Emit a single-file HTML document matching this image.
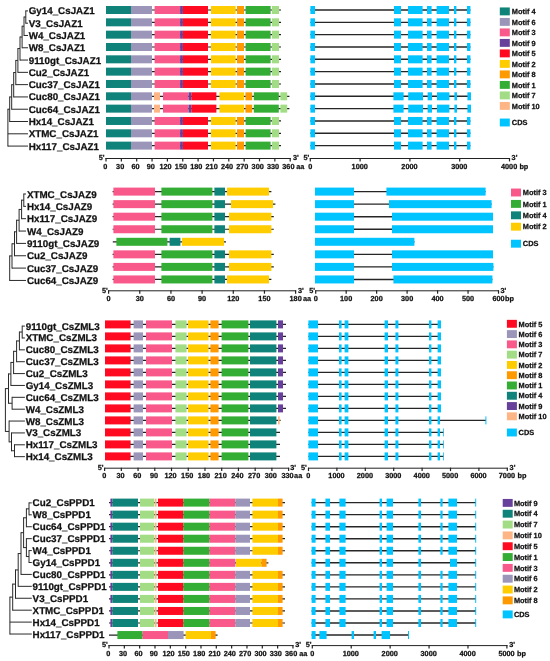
<!DOCTYPE html>
<html lang="en">
<head>
<meta charset="utf-8">
<title>Motif and gene structure of CsJAZ1, CsJAZ9, CsZML3, CsPPD1</title>
<style>
html,body{margin:0;padding:0;background:#fff;}
body{width:550px;height:661px;overflow:hidden;}
svg{display:block;}
svg text{font-family:"Liberation Sans",sans-serif;font-weight:bold;stroke:#111;stroke-width:0.25px;text-rendering:geometricPrecision;}
</style>
</head>
<body>
<svg width="550" height="661" viewBox="0 0 550 661">
<rect x="0" y="0" width="550" height="661" fill="#ffffff"/>
<text x="28.7" y="14.38" font-size="9.8" text-anchor="start" fill="#111" transform="rotate(0.02 28.7 14.38)">Gy14_CsJAZ1</text>
<text x="28.7" y="26.62" font-size="9.8" text-anchor="start" fill="#111" transform="rotate(0.02 28.7 26.62)">V3_CsJAZ1</text>
<text x="28.7" y="38.88" font-size="9.8" text-anchor="start" fill="#111" transform="rotate(0.02 28.7 38.88)">W4_CsJAZ1</text>
<text x="28.7" y="51.38" font-size="9.8" text-anchor="start" fill="#111" transform="rotate(0.02 28.7 51.38)">W8_CsJAZ1</text>
<text x="28.7" y="63.62" font-size="9.8" text-anchor="start" fill="#111" transform="rotate(0.02 28.7 63.62)">9110gt_CsJAZ1</text>
<text x="28.7" y="75.88" font-size="9.8" text-anchor="start" fill="#111" transform="rotate(0.02 28.7 75.88)">Cu2_CsJAZ1</text>
<text x="28.7" y="88.12" font-size="9.8" text-anchor="start" fill="#111" transform="rotate(0.02 28.7 88.12)">Cuc37_CsJAZ1</text>
<text x="28.7" y="100.38" font-size="9.8" text-anchor="start" fill="#111" transform="rotate(0.02 28.7 100.38)">Cuc80_CsJAZ1</text>
<text x="28.7" y="112.62" font-size="9.8" text-anchor="start" fill="#111" transform="rotate(0.02 28.7 112.62)">Cuc64_CsJAZ1</text>
<text x="28.7" y="125.12" font-size="9.8" text-anchor="start" fill="#111" transform="rotate(0.02 28.7 125.12)">Hx14_CsJAZ1</text>
<text x="28.7" y="137.38" font-size="9.8" text-anchor="start" fill="#111" transform="rotate(0.02 28.7 137.38)">XTMC_CsJAZ1</text>
<text x="28.7" y="149.62" font-size="9.8" text-anchor="start" fill="#111" transform="rotate(0.02 28.7 149.62)">Hx117_CsJAZ1</text>
<line x1="25.8" y1="10.4" x2="25.8" y2="23.69" stroke="#2a2a2a" stroke-width="1"/>
<line x1="25.8" y1="10.9" x2="28" y2="10.9" stroke="#2a2a2a" stroke-width="1"/>
<line x1="25.8" y1="23.19" x2="28" y2="23.19" stroke="#2a2a2a" stroke-width="1"/>
<line x1="24" y1="16.54" x2="24" y2="35.98" stroke="#2a2a2a" stroke-width="1"/>
<line x1="24" y1="17.04" x2="25.8" y2="17.04" stroke="#2a2a2a" stroke-width="1"/>
<line x1="24" y1="35.48" x2="28" y2="35.48" stroke="#2a2a2a" stroke-width="1"/>
<line x1="22.1" y1="25.76" x2="22.1" y2="48.27" stroke="#2a2a2a" stroke-width="1"/>
<line x1="22.1" y1="26.26" x2="24" y2="26.26" stroke="#2a2a2a" stroke-width="1"/>
<line x1="22.1" y1="47.77" x2="28" y2="47.77" stroke="#2a2a2a" stroke-width="1"/>
<line x1="20" y1="36.52" x2="20" y2="60.56" stroke="#2a2a2a" stroke-width="1"/>
<line x1="20" y1="37.02" x2="22.1" y2="37.02" stroke="#2a2a2a" stroke-width="1"/>
<line x1="20" y1="60.06" x2="28" y2="60.06" stroke="#2a2a2a" stroke-width="1"/>
<line x1="17.9" y1="48.04" x2="17.9" y2="72.85" stroke="#2a2a2a" stroke-width="1"/>
<line x1="17.9" y1="48.54" x2="20" y2="48.54" stroke="#2a2a2a" stroke-width="1"/>
<line x1="17.9" y1="72.35" x2="28" y2="72.35" stroke="#2a2a2a" stroke-width="1"/>
<line x1="15.8" y1="59.94" x2="15.8" y2="85.14" stroke="#2a2a2a" stroke-width="1"/>
<line x1="15.8" y1="60.44" x2="17.9" y2="60.44" stroke="#2a2a2a" stroke-width="1"/>
<line x1="15.8" y1="84.64" x2="28" y2="84.64" stroke="#2a2a2a" stroke-width="1"/>
<line x1="13.7" y1="72.04" x2="13.7" y2="97.43" stroke="#2a2a2a" stroke-width="1"/>
<line x1="13.7" y1="72.54" x2="15.8" y2="72.54" stroke="#2a2a2a" stroke-width="1"/>
<line x1="13.7" y1="96.93" x2="28" y2="96.93" stroke="#2a2a2a" stroke-width="1"/>
<line x1="11.7" y1="84.24" x2="11.7" y2="109.72" stroke="#2a2a2a" stroke-width="1"/>
<line x1="11.7" y1="84.74" x2="13.7" y2="84.74" stroke="#2a2a2a" stroke-width="1"/>
<line x1="11.7" y1="109.22" x2="28" y2="109.22" stroke="#2a2a2a" stroke-width="1"/>
<line x1="9.7" y1="96.48" x2="9.7" y2="122.01" stroke="#2a2a2a" stroke-width="1"/>
<line x1="9.7" y1="96.98" x2="11.7" y2="96.98" stroke="#2a2a2a" stroke-width="1"/>
<line x1="9.7" y1="121.51" x2="28" y2="121.51" stroke="#2a2a2a" stroke-width="1"/>
<line x1="7.9" y1="108.74" x2="7.9" y2="146.59" stroke="#2a2a2a" stroke-width="1"/>
<line x1="7.9" y1="109.24" x2="9.7" y2="109.24" stroke="#2a2a2a" stroke-width="1"/>
<line x1="7.9" y1="133.8" x2="28" y2="133.8" stroke="#2a2a2a" stroke-width="1"/>
<line x1="7.9" y1="146.09" x2="28" y2="146.09" stroke="#2a2a2a" stroke-width="1"/>
<line x1="106" y1="10" x2="281" y2="10" stroke="#222" stroke-width="1.2"/>
<rect x="106" y="6" width="25" height="8" fill="#0f837a"/>
<rect x="131" y="6" width="21" height="8" fill="#9a95b9"/>
<rect x="154.6" y="6" width="25.4" height="8" fill="#f8588a"/>
<rect x="180.1" y="6" width="2.8" height="8" fill="#66409a"/>
<rect x="182.9" y="6" width="25.1" height="8" fill="#ff0a20"/>
<rect x="211" y="6" width="24.6" height="8" fill="#ffcc00"/>
<rect x="237" y="6" width="7" height="8" fill="#ff9900"/>
<rect x="245.6" y="6" width="25" height="8" fill="#33ad33"/>
<rect x="272" y="6" width="7" height="8" fill="#a2dc84"/>
<line x1="106" y1="22.33" x2="281" y2="22.33" stroke="#222" stroke-width="1.2"/>
<rect x="106" y="18.33" width="25" height="8" fill="#0f837a"/>
<rect x="131" y="18.33" width="21" height="8" fill="#9a95b9"/>
<rect x="154.6" y="18.33" width="25.4" height="8" fill="#f8588a"/>
<rect x="180.1" y="18.33" width="2.8" height="8" fill="#66409a"/>
<rect x="182.9" y="18.33" width="25.1" height="8" fill="#ff0a20"/>
<rect x="211" y="18.33" width="24.6" height="8" fill="#ffcc00"/>
<rect x="237" y="18.33" width="7" height="8" fill="#ff9900"/>
<rect x="245.6" y="18.33" width="25" height="8" fill="#33ad33"/>
<rect x="272" y="18.33" width="7" height="8" fill="#a2dc84"/>
<line x1="106" y1="34.66" x2="281" y2="34.66" stroke="#222" stroke-width="1.2"/>
<rect x="106" y="30.66" width="25" height="8" fill="#0f837a"/>
<rect x="131" y="30.66" width="21" height="8" fill="#9a95b9"/>
<rect x="154.6" y="30.66" width="25.4" height="8" fill="#f8588a"/>
<rect x="180.1" y="30.66" width="2.8" height="8" fill="#66409a"/>
<rect x="182.9" y="30.66" width="25.1" height="8" fill="#ff0a20"/>
<rect x="211" y="30.66" width="24.6" height="8" fill="#ffcc00"/>
<rect x="237" y="30.66" width="7" height="8" fill="#ff9900"/>
<rect x="245.6" y="30.66" width="25" height="8" fill="#33ad33"/>
<rect x="272" y="30.66" width="7" height="8" fill="#a2dc84"/>
<line x1="106" y1="46.99" x2="281" y2="46.99" stroke="#222" stroke-width="1.2"/>
<rect x="106" y="42.99" width="25" height="8" fill="#0f837a"/>
<rect x="131" y="42.99" width="21" height="8" fill="#9a95b9"/>
<rect x="154.6" y="42.99" width="25.4" height="8" fill="#f8588a"/>
<rect x="180.1" y="42.99" width="2.8" height="8" fill="#66409a"/>
<rect x="182.9" y="42.99" width="25.1" height="8" fill="#ff0a20"/>
<rect x="211" y="42.99" width="24.6" height="8" fill="#ffcc00"/>
<rect x="237" y="42.99" width="7" height="8" fill="#ff9900"/>
<rect x="245.6" y="42.99" width="25" height="8" fill="#33ad33"/>
<rect x="272" y="42.99" width="7" height="8" fill="#a2dc84"/>
<line x1="106" y1="59.32" x2="281" y2="59.32" stroke="#222" stroke-width="1.2"/>
<rect x="106" y="55.32" width="25" height="8" fill="#0f837a"/>
<rect x="131" y="55.32" width="21" height="8" fill="#9a95b9"/>
<rect x="154.6" y="55.32" width="25.4" height="8" fill="#f8588a"/>
<rect x="180.1" y="55.32" width="2.8" height="8" fill="#66409a"/>
<rect x="182.9" y="55.32" width="25.1" height="8" fill="#ff0a20"/>
<rect x="211" y="55.32" width="24.6" height="8" fill="#ffcc00"/>
<rect x="237" y="55.32" width="7" height="8" fill="#ff9900"/>
<rect x="245.6" y="55.32" width="25" height="8" fill="#33ad33"/>
<rect x="272" y="55.32" width="7" height="8" fill="#a2dc84"/>
<line x1="106" y1="71.65" x2="281" y2="71.65" stroke="#222" stroke-width="1.2"/>
<rect x="106" y="67.65" width="25" height="8" fill="#0f837a"/>
<rect x="131" y="67.65" width="21" height="8" fill="#9a95b9"/>
<rect x="154.6" y="67.65" width="25.4" height="8" fill="#f8588a"/>
<rect x="180.1" y="67.65" width="2.8" height="8" fill="#66409a"/>
<rect x="182.9" y="67.65" width="25.1" height="8" fill="#ff0a20"/>
<rect x="211" y="67.65" width="24.6" height="8" fill="#ffcc00"/>
<rect x="237" y="67.65" width="7" height="8" fill="#ff9900"/>
<rect x="245.6" y="67.65" width="25" height="8" fill="#33ad33"/>
<rect x="272" y="67.65" width="7" height="8" fill="#a2dc84"/>
<line x1="106" y1="83.98" x2="281" y2="83.98" stroke="#222" stroke-width="1.2"/>
<rect x="106" y="79.98" width="25" height="8" fill="#0f837a"/>
<rect x="131" y="79.98" width="21" height="8" fill="#9a95b9"/>
<rect x="154.6" y="79.98" width="25.4" height="8" fill="#f8588a"/>
<rect x="180.1" y="79.98" width="2.8" height="8" fill="#66409a"/>
<rect x="182.9" y="79.98" width="25.1" height="8" fill="#ff0a20"/>
<rect x="211" y="79.98" width="24.6" height="8" fill="#ffcc00"/>
<rect x="237" y="79.98" width="7" height="8" fill="#ff9900"/>
<rect x="245.6" y="79.98" width="25" height="8" fill="#33ad33"/>
<rect x="272" y="79.98" width="7" height="8" fill="#a2dc84"/>
<line x1="106" y1="96.31" x2="289.4" y2="96.31" stroke="#222" stroke-width="1.2"/>
<rect x="106" y="92.31" width="25" height="8" fill="#0f837a"/>
<rect x="131" y="92.31" width="21" height="8" fill="#9a95b9"/>
<rect x="154" y="92.31" width="6" height="8" fill="#fdb585"/>
<rect x="163" y="92.31" width="25.4" height="8" fill="#f8588a"/>
<rect x="188.5" y="92.31" width="2.8" height="8" fill="#66409a"/>
<rect x="191.3" y="92.31" width="25.1" height="8" fill="#ff0a20"/>
<rect x="219.4" y="92.31" width="24.6" height="8" fill="#ffcc00"/>
<rect x="245.4" y="92.31" width="6.8" height="8" fill="#ff9900"/>
<rect x="253.8" y="92.31" width="25" height="8" fill="#33ad33"/>
<rect x="280.4" y="92.31" width="6.8" height="8" fill="#a2dc84"/>
<line x1="106" y1="108.64" x2="289.4" y2="108.64" stroke="#222" stroke-width="1.2"/>
<rect x="106" y="104.64" width="25" height="8" fill="#0f837a"/>
<rect x="131" y="104.64" width="21" height="8" fill="#9a95b9"/>
<rect x="154" y="104.64" width="6" height="8" fill="#fdb585"/>
<rect x="163" y="104.64" width="25.4" height="8" fill="#f8588a"/>
<rect x="188.5" y="104.64" width="2.8" height="8" fill="#66409a"/>
<rect x="191.3" y="104.64" width="25.1" height="8" fill="#ff0a20"/>
<rect x="219.4" y="104.64" width="24.6" height="8" fill="#ffcc00"/>
<rect x="245.4" y="104.64" width="6.8" height="8" fill="#ff9900"/>
<rect x="253.8" y="104.64" width="25" height="8" fill="#33ad33"/>
<rect x="280.4" y="104.64" width="6.8" height="8" fill="#a2dc84"/>
<line x1="106" y1="120.97" x2="281" y2="120.97" stroke="#222" stroke-width="1.2"/>
<rect x="106" y="116.97" width="25" height="8" fill="#0f837a"/>
<rect x="131" y="116.97" width="21" height="8" fill="#9a95b9"/>
<rect x="154.6" y="116.97" width="25.4" height="8" fill="#f8588a"/>
<rect x="180.1" y="116.97" width="2.8" height="8" fill="#66409a"/>
<rect x="182.9" y="116.97" width="25.1" height="8" fill="#ff0a20"/>
<rect x="211" y="116.97" width="24.6" height="8" fill="#ffcc00"/>
<rect x="237" y="116.97" width="7" height="8" fill="#ff9900"/>
<rect x="245.6" y="116.97" width="25" height="8" fill="#33ad33"/>
<rect x="272" y="116.97" width="7" height="8" fill="#a2dc84"/>
<line x1="106" y1="133.3" x2="281" y2="133.3" stroke="#222" stroke-width="1.2"/>
<rect x="106" y="129.3" width="25" height="8" fill="#0f837a"/>
<rect x="131" y="129.3" width="21" height="8" fill="#9a95b9"/>
<rect x="154.6" y="129.3" width="25.4" height="8" fill="#f8588a"/>
<rect x="180.1" y="129.3" width="2.8" height="8" fill="#66409a"/>
<rect x="182.9" y="129.3" width="25.1" height="8" fill="#ff0a20"/>
<rect x="211" y="129.3" width="24.6" height="8" fill="#ffcc00"/>
<rect x="237" y="129.3" width="7" height="8" fill="#ff9900"/>
<rect x="245.6" y="129.3" width="25" height="8" fill="#33ad33"/>
<rect x="272" y="129.3" width="7" height="8" fill="#a2dc84"/>
<line x1="106" y1="145.63" x2="281" y2="145.63" stroke="#222" stroke-width="1.2"/>
<rect x="106" y="141.63" width="25" height="8" fill="#0f837a"/>
<rect x="131" y="141.63" width="21" height="8" fill="#9a95b9"/>
<rect x="154.6" y="141.63" width="25.4" height="8" fill="#f8588a"/>
<rect x="180.1" y="141.63" width="2.8" height="8" fill="#66409a"/>
<rect x="182.9" y="141.63" width="25.1" height="8" fill="#ff0a20"/>
<rect x="211" y="141.63" width="24.6" height="8" fill="#ffcc00"/>
<rect x="237" y="141.63" width="7" height="8" fill="#ff9900"/>
<rect x="245.6" y="141.63" width="25" height="8" fill="#33ad33"/>
<rect x="272" y="141.63" width="7" height="8" fill="#a2dc84"/>
<line x1="105.5" y1="158.5" x2="290.7" y2="158.5" stroke="#222" stroke-width="1"/>
<line x1="106" y1="158" x2="106" y2="161.4" stroke="#222" stroke-width="1.2"/>
<text x="105.4" y="168.62" font-size="7.3" text-anchor="middle" fill="#111" transform="rotate(0.02 105.4 168.62)">0</text>
<line x1="121.35" y1="158" x2="121.35" y2="161.4" stroke="#222" stroke-width="1.2"/>
<text x="120.15" y="168.62" font-size="7.3" text-anchor="middle" fill="#111" transform="rotate(0.02 120.15 168.62)">30</text>
<line x1="136.7" y1="158" x2="136.7" y2="161.4" stroke="#222" stroke-width="1.2"/>
<text x="135.5" y="168.62" font-size="7.3" text-anchor="middle" fill="#111" transform="rotate(0.02 135.5 168.62)">60</text>
<line x1="152.05" y1="158" x2="152.05" y2="161.4" stroke="#222" stroke-width="1.2"/>
<text x="150.85" y="168.62" font-size="7.3" text-anchor="middle" fill="#111" transform="rotate(0.02 150.85 168.62)">90</text>
<line x1="167.4" y1="158" x2="167.4" y2="161.4" stroke="#222" stroke-width="1.2"/>
<text x="165.6" y="168.62" font-size="7.3" text-anchor="middle" fill="#111" transform="rotate(0.02 165.6 168.62)">120</text>
<line x1="182.75" y1="158" x2="182.75" y2="161.4" stroke="#222" stroke-width="1.2"/>
<text x="180.95" y="168.62" font-size="7.3" text-anchor="middle" fill="#111" transform="rotate(0.02 180.95 168.62)">150</text>
<line x1="198.1" y1="158" x2="198.1" y2="161.4" stroke="#222" stroke-width="1.2"/>
<text x="196.3" y="168.62" font-size="7.3" text-anchor="middle" fill="#111" transform="rotate(0.02 196.3 168.62)">180</text>
<line x1="213.45" y1="158" x2="213.45" y2="161.4" stroke="#222" stroke-width="1.2"/>
<text x="211.65" y="168.62" font-size="7.3" text-anchor="middle" fill="#111" transform="rotate(0.02 211.65 168.62)">210</text>
<line x1="228.8" y1="158" x2="228.8" y2="161.4" stroke="#222" stroke-width="1.2"/>
<text x="227" y="168.62" font-size="7.3" text-anchor="middle" fill="#111" transform="rotate(0.02 227 168.62)">240</text>
<line x1="244.15" y1="158" x2="244.15" y2="161.4" stroke="#222" stroke-width="1.2"/>
<text x="242.35" y="168.62" font-size="7.3" text-anchor="middle" fill="#111" transform="rotate(0.02 242.35 168.62)">270</text>
<line x1="259.5" y1="158" x2="259.5" y2="161.4" stroke="#222" stroke-width="1.2"/>
<text x="257.7" y="168.62" font-size="7.3" text-anchor="middle" fill="#111" transform="rotate(0.02 257.7 168.62)">300</text>
<line x1="274.85" y1="158" x2="274.85" y2="161.4" stroke="#222" stroke-width="1.2"/>
<text x="273.05" y="168.62" font-size="7.3" text-anchor="middle" fill="#111" transform="rotate(0.02 273.05 168.62)">330</text>
<line x1="290.2" y1="158" x2="290.2" y2="161.4" stroke="#222" stroke-width="1.2"/>
<text x="288.4" y="168.62" font-size="7.3" text-anchor="middle" fill="#111" transform="rotate(0.02 288.4 168.62)">360</text>
<text x="104.5" y="160.38" font-size="7.3" text-anchor="end" fill="#111" transform="rotate(0.02 104.5 160.38)">5'</text>
<text x="293" y="160.38" font-size="7.3" text-anchor="start" fill="#111" transform="rotate(0.02 293 160.38)">3'</text>
<text x="296.2" y="168.62" font-size="7.3" text-anchor="start" fill="#111" transform="rotate(0.02 296.2 168.62)">aa</text>
<line x1="310.4" y1="10" x2="470.4" y2="10" stroke="#262626" stroke-width="1.4"/>
<rect x="310.4" y="6" width="4.6" height="8" fill="#00c4ff"/>
<rect x="394" y="6" width="7" height="8" fill="#00c4ff"/>
<rect x="408" y="6" width="14.6" height="8" fill="#00c4ff"/>
<rect x="427" y="6" width="4.6" height="8" fill="#00c4ff"/>
<rect x="436.6" y="6" width="12.4" height="8" fill="#00c4ff"/>
<rect x="454" y="6" width="2.4" height="8" fill="#00c4ff"/>
<rect x="467" y="6" width="3.4" height="8" fill="#00c4ff"/>
<line x1="310.4" y1="22.33" x2="470.4" y2="22.33" stroke="#262626" stroke-width="1.4"/>
<rect x="310.4" y="18.33" width="4.6" height="8" fill="#00c4ff"/>
<rect x="394" y="18.33" width="7" height="8" fill="#00c4ff"/>
<rect x="408" y="18.33" width="14.6" height="8" fill="#00c4ff"/>
<rect x="427" y="18.33" width="4.6" height="8" fill="#00c4ff"/>
<rect x="436.6" y="18.33" width="12.4" height="8" fill="#00c4ff"/>
<rect x="454" y="18.33" width="2.4" height="8" fill="#00c4ff"/>
<rect x="467" y="18.33" width="3.4" height="8" fill="#00c4ff"/>
<line x1="310.4" y1="34.66" x2="470.4" y2="34.66" stroke="#262626" stroke-width="1.4"/>
<rect x="310.4" y="30.66" width="4.6" height="8" fill="#00c4ff"/>
<rect x="394" y="30.66" width="7" height="8" fill="#00c4ff"/>
<rect x="408" y="30.66" width="14.6" height="8" fill="#00c4ff"/>
<rect x="427" y="30.66" width="4.6" height="8" fill="#00c4ff"/>
<rect x="436.6" y="30.66" width="12.4" height="8" fill="#00c4ff"/>
<rect x="454" y="30.66" width="2.4" height="8" fill="#00c4ff"/>
<rect x="467" y="30.66" width="3.4" height="8" fill="#00c4ff"/>
<line x1="310.4" y1="46.99" x2="470.4" y2="46.99" stroke="#262626" stroke-width="1.4"/>
<rect x="310.4" y="42.99" width="4.6" height="8" fill="#00c4ff"/>
<rect x="394" y="42.99" width="7" height="8" fill="#00c4ff"/>
<rect x="408" y="42.99" width="14.6" height="8" fill="#00c4ff"/>
<rect x="427" y="42.99" width="4.6" height="8" fill="#00c4ff"/>
<rect x="436.6" y="42.99" width="12.4" height="8" fill="#00c4ff"/>
<rect x="454" y="42.99" width="2.4" height="8" fill="#00c4ff"/>
<rect x="467" y="42.99" width="3.4" height="8" fill="#00c4ff"/>
<line x1="310.4" y1="59.32" x2="470.4" y2="59.32" stroke="#262626" stroke-width="1.4"/>
<rect x="310.4" y="55.32" width="4.6" height="8" fill="#00c4ff"/>
<rect x="394" y="55.32" width="7" height="8" fill="#00c4ff"/>
<rect x="408" y="55.32" width="14.6" height="8" fill="#00c4ff"/>
<rect x="427" y="55.32" width="4.6" height="8" fill="#00c4ff"/>
<rect x="436.6" y="55.32" width="12.4" height="8" fill="#00c4ff"/>
<rect x="454" y="55.32" width="2.4" height="8" fill="#00c4ff"/>
<rect x="467" y="55.32" width="3.4" height="8" fill="#00c4ff"/>
<line x1="310.4" y1="71.65" x2="470.4" y2="71.65" stroke="#262626" stroke-width="1.4"/>
<rect x="310.4" y="67.65" width="4.6" height="8" fill="#00c4ff"/>
<rect x="394" y="67.65" width="7" height="8" fill="#00c4ff"/>
<rect x="408" y="67.65" width="14.6" height="8" fill="#00c4ff"/>
<rect x="427" y="67.65" width="4.6" height="8" fill="#00c4ff"/>
<rect x="436.6" y="67.65" width="12.4" height="8" fill="#00c4ff"/>
<rect x="454" y="67.65" width="2.4" height="8" fill="#00c4ff"/>
<rect x="467" y="67.65" width="3.4" height="8" fill="#00c4ff"/>
<line x1="310.4" y1="83.98" x2="470.4" y2="83.98" stroke="#262626" stroke-width="1.4"/>
<rect x="310.4" y="79.98" width="4.6" height="8" fill="#00c4ff"/>
<rect x="394" y="79.98" width="7" height="8" fill="#00c4ff"/>
<rect x="408" y="79.98" width="14.6" height="8" fill="#00c4ff"/>
<rect x="427" y="79.98" width="4.6" height="8" fill="#00c4ff"/>
<rect x="436.6" y="79.98" width="12.4" height="8" fill="#00c4ff"/>
<rect x="454" y="79.98" width="2.4" height="8" fill="#00c4ff"/>
<rect x="467" y="79.98" width="3.4" height="8" fill="#00c4ff"/>
<line x1="310.4" y1="96.31" x2="470.8" y2="96.31" stroke="#262626" stroke-width="1.4"/>
<rect x="310.4" y="92.31" width="4.6" height="8" fill="#00c4ff"/>
<rect x="393.4" y="92.31" width="10.2" height="8" fill="#00c4ff"/>
<rect x="408.2" y="92.31" width="14.8" height="8" fill="#00c4ff"/>
<rect x="427.6" y="92.31" width="4.4" height="8" fill="#00c4ff"/>
<rect x="437" y="92.31" width="12.4" height="8" fill="#00c4ff"/>
<rect x="454.4" y="92.31" width="2.6" height="8" fill="#00c4ff"/>
<rect x="467.4" y="92.31" width="3.6" height="8" fill="#00c4ff"/>
<line x1="310.4" y1="108.64" x2="470.8" y2="108.64" stroke="#262626" stroke-width="1.4"/>
<rect x="310.4" y="104.64" width="4.6" height="8" fill="#00c4ff"/>
<rect x="393.4" y="104.64" width="10.2" height="8" fill="#00c4ff"/>
<rect x="408.2" y="104.64" width="14.8" height="8" fill="#00c4ff"/>
<rect x="427.6" y="104.64" width="4.4" height="8" fill="#00c4ff"/>
<rect x="437" y="104.64" width="12.4" height="8" fill="#00c4ff"/>
<rect x="454.4" y="104.64" width="2.6" height="8" fill="#00c4ff"/>
<rect x="467.4" y="104.64" width="3.6" height="8" fill="#00c4ff"/>
<line x1="310.4" y1="120.97" x2="470.4" y2="120.97" stroke="#262626" stroke-width="1.4"/>
<rect x="310.4" y="116.97" width="4.6" height="8" fill="#00c4ff"/>
<rect x="394" y="116.97" width="7" height="8" fill="#00c4ff"/>
<rect x="408" y="116.97" width="14.6" height="8" fill="#00c4ff"/>
<rect x="427" y="116.97" width="4.6" height="8" fill="#00c4ff"/>
<rect x="436.6" y="116.97" width="12.4" height="8" fill="#00c4ff"/>
<rect x="454" y="116.97" width="2.4" height="8" fill="#00c4ff"/>
<rect x="467" y="116.97" width="3.4" height="8" fill="#00c4ff"/>
<line x1="310.4" y1="133.3" x2="470.4" y2="133.3" stroke="#262626" stroke-width="1.4"/>
<rect x="310.4" y="129.3" width="4.6" height="8" fill="#00c4ff"/>
<rect x="394" y="129.3" width="7" height="8" fill="#00c4ff"/>
<rect x="408" y="129.3" width="14.6" height="8" fill="#00c4ff"/>
<rect x="427" y="129.3" width="4.6" height="8" fill="#00c4ff"/>
<rect x="436.6" y="129.3" width="12.4" height="8" fill="#00c4ff"/>
<rect x="454" y="129.3" width="2.4" height="8" fill="#00c4ff"/>
<rect x="467" y="129.3" width="3.4" height="8" fill="#00c4ff"/>
<line x1="310.4" y1="145.63" x2="470.4" y2="145.63" stroke="#262626" stroke-width="1.4"/>
<rect x="310.4" y="141.63" width="4.6" height="8" fill="#00c4ff"/>
<rect x="394" y="141.63" width="7" height="8" fill="#00c4ff"/>
<rect x="408" y="141.63" width="14.6" height="8" fill="#00c4ff"/>
<rect x="427" y="141.63" width="4.6" height="8" fill="#00c4ff"/>
<rect x="436.6" y="141.63" width="12.4" height="8" fill="#00c4ff"/>
<rect x="454" y="141.63" width="2.4" height="8" fill="#00c4ff"/>
<rect x="467" y="141.63" width="3.4" height="8" fill="#00c4ff"/>
<line x1="309.8" y1="158.5" x2="510" y2="158.5" stroke="#222" stroke-width="1"/>
<line x1="310.3" y1="158" x2="310.3" y2="161.4" stroke="#222" stroke-width="1.2"/>
<text x="310.2" y="168.62" font-size="7.3" text-anchor="middle" fill="#111" transform="rotate(0.02 310.2 168.62)">0</text>
<line x1="360.1" y1="158" x2="360.1" y2="161.4" stroke="#222" stroke-width="1.2"/>
<text x="359.7" y="168.62" font-size="7.3" text-anchor="middle" fill="#111" transform="rotate(0.02 359.7 168.62)">1000</text>
<line x1="409.9" y1="158" x2="409.9" y2="161.4" stroke="#222" stroke-width="1.2"/>
<text x="409.5" y="168.62" font-size="7.3" text-anchor="middle" fill="#111" transform="rotate(0.02 409.5 168.62)">2000</text>
<line x1="459.7" y1="158" x2="459.7" y2="161.4" stroke="#222" stroke-width="1.2"/>
<text x="459.3" y="168.62" font-size="7.3" text-anchor="middle" fill="#111" transform="rotate(0.02 459.3 168.62)">3000</text>
<line x1="509.5" y1="158" x2="509.5" y2="161.4" stroke="#222" stroke-width="1.2"/>
<text x="509.1" y="168.62" font-size="7.3" text-anchor="middle" fill="#111" transform="rotate(0.02 509.1 168.62)">4000</text>
<text x="309.2" y="160.38" font-size="7.3" text-anchor="end" fill="#111" transform="rotate(0.02 309.2 160.38)">5'</text>
<text x="511.6" y="160.38" font-size="7.3" text-anchor="start" fill="#111" transform="rotate(0.02 511.6 160.38)">3'</text>
<text x="519.4" y="168.62" font-size="7.3" text-anchor="start" fill="#111" transform="rotate(0.02 519.4 168.62)">bp</text>
<rect x="499.8" y="7.45" width="10" height="7.9" fill="#0f837a"/>
<text x="511.8" y="14.12" font-size="7.4" text-anchor="start" fill="#111" transform="rotate(0.02 511.8 14.12)">Motif 4</text>
<rect x="499.8" y="17.95" width="10" height="7.9" fill="#9a95b9"/>
<text x="511.8" y="24.62" font-size="7.4" text-anchor="start" fill="#111" transform="rotate(0.02 511.8 24.62)">Motif 6</text>
<rect x="499.8" y="28.45" width="10" height="7.9" fill="#f8588a"/>
<text x="511.8" y="35.12" font-size="7.4" text-anchor="start" fill="#111" transform="rotate(0.02 511.8 35.12)">Motif 3</text>
<rect x="499.8" y="38.95" width="10" height="7.9" fill="#66409a"/>
<text x="511.8" y="45.62" font-size="7.4" text-anchor="start" fill="#111" transform="rotate(0.02 511.8 45.62)">Motif 9</text>
<rect x="499.8" y="49.45" width="10" height="7.9" fill="#ff0a20"/>
<text x="511.8" y="56.12" font-size="7.4" text-anchor="start" fill="#111" transform="rotate(0.02 511.8 56.12)">Motif 5</text>
<rect x="499.8" y="59.95" width="10" height="7.9" fill="#ffcc00"/>
<text x="511.8" y="66.62" font-size="7.4" text-anchor="start" fill="#111" transform="rotate(0.02 511.8 66.62)">Motif 2</text>
<rect x="499.8" y="70.45" width="10" height="7.9" fill="#ff9900"/>
<text x="511.8" y="77.12" font-size="7.4" text-anchor="start" fill="#111" transform="rotate(0.02 511.8 77.12)">Motif 8</text>
<rect x="499.8" y="80.95" width="10" height="7.9" fill="#33ad33"/>
<text x="511.8" y="87.62" font-size="7.4" text-anchor="start" fill="#111" transform="rotate(0.02 511.8 87.62)">Motif 1</text>
<rect x="499.8" y="91.45" width="10" height="7.9" fill="#a2dc84"/>
<text x="511.8" y="98.12" font-size="7.4" text-anchor="start" fill="#111" transform="rotate(0.02 511.8 98.12)">Motif 7</text>
<rect x="499.8" y="101.95" width="10" height="7.9" fill="#fdb585"/>
<text x="511.8" y="108.62" font-size="7.4" text-anchor="start" fill="#111" transform="rotate(0.02 511.8 108.62)">Motif 10</text>
<rect x="499.8" y="118.55" width="10" height="7.9" fill="#00c4ff"/>
<text x="511.8" y="125.12" font-size="7.4" text-anchor="start" fill="#111" transform="rotate(0.02 511.8 125.12)">CDS</text>
<text x="26.9" y="197.62" font-size="9.8" text-anchor="start" fill="#111" transform="rotate(0.02 26.9 197.62)">XTMC_CsJAZ9</text>
<text x="26.9" y="209.88" font-size="9.8" text-anchor="start" fill="#111" transform="rotate(0.02 26.9 209.88)">Hx14_CsJAZ9</text>
<text x="26.9" y="222.12" font-size="9.8" text-anchor="start" fill="#111" transform="rotate(0.02 26.9 222.12)">Hx117_CsJAZ9</text>
<text x="26.9" y="234.62" font-size="9.8" text-anchor="start" fill="#111" transform="rotate(0.02 26.9 234.62)">W4_CsJAZ9</text>
<text x="26.9" y="246.88" font-size="9.8" text-anchor="start" fill="#111" transform="rotate(0.02 26.9 246.88)">9110gt_CsJAZ9</text>
<text x="26.9" y="259.38" font-size="9.8" text-anchor="start" fill="#111" transform="rotate(0.02 26.9 259.38)">Cu2_CsJAZ9</text>
<text x="26.9" y="271.62" font-size="9.8" text-anchor="start" fill="#111" transform="rotate(0.02 26.9 271.62)">Cuc37_CsJAZ9</text>
<text x="26.9" y="283.88" font-size="9.8" text-anchor="start" fill="#111" transform="rotate(0.02 26.9 283.88)">Cuc64_CsJAZ9</text>
<line x1="23.8" y1="193.5" x2="23.8" y2="206.85" stroke="#2a2a2a" stroke-width="1"/>
<line x1="23.8" y1="194" x2="26" y2="194" stroke="#2a2a2a" stroke-width="1"/>
<line x1="23.8" y1="206.35" x2="26" y2="206.35" stroke="#2a2a2a" stroke-width="1"/>
<line x1="21.6" y1="199.68" x2="21.6" y2="219.2" stroke="#2a2a2a" stroke-width="1"/>
<line x1="21.6" y1="200.18" x2="23.8" y2="200.18" stroke="#2a2a2a" stroke-width="1"/>
<line x1="21.6" y1="218.7" x2="26" y2="218.7" stroke="#2a2a2a" stroke-width="1"/>
<line x1="19.1" y1="208.94" x2="19.1" y2="231.55" stroke="#2a2a2a" stroke-width="1"/>
<line x1="19.1" y1="209.44" x2="21.6" y2="209.44" stroke="#2a2a2a" stroke-width="1"/>
<line x1="19.1" y1="231.05" x2="26" y2="231.05" stroke="#2a2a2a" stroke-width="1"/>
<line x1="16.6" y1="219.74" x2="16.6" y2="243.9" stroke="#2a2a2a" stroke-width="1"/>
<line x1="16.6" y1="220.24" x2="19.1" y2="220.24" stroke="#2a2a2a" stroke-width="1"/>
<line x1="16.6" y1="243.4" x2="26" y2="243.4" stroke="#2a2a2a" stroke-width="1"/>
<line x1="14.5" y1="231.32" x2="14.5" y2="256.25" stroke="#2a2a2a" stroke-width="1"/>
<line x1="14.5" y1="231.82" x2="16.6" y2="231.82" stroke="#2a2a2a" stroke-width="1"/>
<line x1="14.5" y1="255.75" x2="26" y2="255.75" stroke="#2a2a2a" stroke-width="1"/>
<line x1="12" y1="243.29" x2="12" y2="268.6" stroke="#2a2a2a" stroke-width="1"/>
<line x1="12" y1="243.79" x2="14.5" y2="243.79" stroke="#2a2a2a" stroke-width="1"/>
<line x1="12" y1="268.1" x2="26" y2="268.1" stroke="#2a2a2a" stroke-width="1"/>
<line x1="9.7" y1="255.44" x2="9.7" y2="280.95" stroke="#2a2a2a" stroke-width="1"/>
<line x1="9.7" y1="255.94" x2="12" y2="255.94" stroke="#2a2a2a" stroke-width="1"/>
<line x1="9.7" y1="280.45" x2="26" y2="280.45" stroke="#2a2a2a" stroke-width="1"/>
<line x1="112.6" y1="191.6" x2="271.4" y2="191.6" stroke="#222" stroke-width="1.2"/>
<rect x="113.4" y="187.6" width="41.6" height="8" fill="#f8588a"/>
<rect x="161.4" y="187.6" width="51" height="8" fill="#33ad33"/>
<rect x="214.4" y="187.6" width="10.6" height="8" fill="#0f837a"/>
<rect x="227" y="187.6" width="42" height="8" fill="#ffcc00"/>
<line x1="112.6" y1="204.15" x2="275.4" y2="204.15" stroke="#222" stroke-width="1.2"/>
<rect x="113.4" y="200.15" width="41.6" height="8" fill="#f8588a"/>
<rect x="161.4" y="200.15" width="51" height="8" fill="#33ad33"/>
<rect x="214.4" y="200.15" width="10.6" height="8" fill="#0f837a"/>
<rect x="231" y="200.15" width="42" height="8" fill="#ffcc00"/>
<line x1="112.6" y1="216.7" x2="273.8" y2="216.7" stroke="#222" stroke-width="1.2"/>
<rect x="113.4" y="212.7" width="41.6" height="8" fill="#f8588a"/>
<rect x="161.4" y="212.7" width="51" height="8" fill="#33ad33"/>
<rect x="214.4" y="212.7" width="10.6" height="8" fill="#0f837a"/>
<rect x="229" y="212.7" width="42.4" height="8" fill="#ffcc00"/>
<line x1="112.6" y1="229.25" x2="273.8" y2="229.25" stroke="#222" stroke-width="1.2"/>
<rect x="113.4" y="225.25" width="41.6" height="8" fill="#f8588a"/>
<rect x="161.4" y="225.25" width="51" height="8" fill="#33ad33"/>
<rect x="214.4" y="225.25" width="10.6" height="8" fill="#0f837a"/>
<rect x="229" y="225.25" width="42.4" height="8" fill="#ffcc00"/>
<line x1="112.8" y1="241.8" x2="226" y2="241.8" stroke="#222" stroke-width="1.2"/>
<rect x="116.4" y="237.8" width="51" height="8" fill="#33ad33"/>
<rect x="169.6" y="237.8" width="10.8" height="8" fill="#0f837a"/>
<rect x="182" y="237.8" width="42" height="8" fill="#ffcc00"/>
<line x1="112.6" y1="254.35" x2="273.8" y2="254.35" stroke="#222" stroke-width="1.2"/>
<rect x="113.4" y="250.35" width="41.6" height="8" fill="#f8588a"/>
<rect x="161.4" y="250.35" width="51" height="8" fill="#33ad33"/>
<rect x="214.4" y="250.35" width="10.6" height="8" fill="#0f837a"/>
<rect x="229" y="250.35" width="42.4" height="8" fill="#ffcc00"/>
<line x1="112.6" y1="266.9" x2="273.8" y2="266.9" stroke="#222" stroke-width="1.2"/>
<rect x="113.4" y="262.9" width="41.6" height="8" fill="#f8588a"/>
<rect x="161.4" y="262.9" width="51" height="8" fill="#33ad33"/>
<rect x="214.4" y="262.9" width="10.6" height="8" fill="#0f837a"/>
<rect x="229" y="262.9" width="42.4" height="8" fill="#ffcc00"/>
<line x1="112.6" y1="279.45" x2="271.4" y2="279.45" stroke="#222" stroke-width="1.2"/>
<rect x="113.4" y="275.45" width="41.6" height="8" fill="#f8588a"/>
<rect x="161.4" y="275.45" width="51" height="8" fill="#33ad33"/>
<rect x="214.4" y="275.45" width="10.6" height="8" fill="#0f837a"/>
<rect x="227" y="275.45" width="42" height="8" fill="#ffcc00"/>
<line x1="108.1" y1="290.8" x2="296.12" y2="290.8" stroke="#222" stroke-width="1"/>
<line x1="108.6" y1="290.3" x2="108.6" y2="293.7" stroke="#222" stroke-width="1.2"/>
<text x="108.6" y="300.88" font-size="7.3" text-anchor="middle" fill="#111" transform="rotate(0.02 108.6 300.88)">0</text>
<line x1="139.77" y1="290.3" x2="139.77" y2="293.7" stroke="#222" stroke-width="1.2"/>
<text x="139.77" y="300.88" font-size="7.3" text-anchor="middle" fill="#111" transform="rotate(0.02 139.77 300.88)">30</text>
<line x1="170.94" y1="290.3" x2="170.94" y2="293.7" stroke="#222" stroke-width="1.2"/>
<text x="170.94" y="300.88" font-size="7.3" text-anchor="middle" fill="#111" transform="rotate(0.02 170.94 300.88)">60</text>
<line x1="202.11" y1="290.3" x2="202.11" y2="293.7" stroke="#222" stroke-width="1.2"/>
<text x="202.11" y="300.88" font-size="7.3" text-anchor="middle" fill="#111" transform="rotate(0.02 202.11 300.88)">90</text>
<line x1="233.28" y1="290.3" x2="233.28" y2="293.7" stroke="#222" stroke-width="1.2"/>
<text x="233.28" y="300.88" font-size="7.3" text-anchor="middle" fill="#111" transform="rotate(0.02 233.28 300.88)">120</text>
<line x1="264.45" y1="290.3" x2="264.45" y2="293.7" stroke="#222" stroke-width="1.2"/>
<text x="264.45" y="300.88" font-size="7.3" text-anchor="middle" fill="#111" transform="rotate(0.02 264.45 300.88)">150</text>
<line x1="295.62" y1="290.3" x2="295.62" y2="293.7" stroke="#222" stroke-width="1.2"/>
<text x="295.62" y="300.88" font-size="7.3" text-anchor="middle" fill="#111" transform="rotate(0.02 295.62 300.88)">180</text>
<text x="107.7" y="292.62" font-size="7.3" text-anchor="end" fill="#111" transform="rotate(0.02 107.7 292.62)">5'</text>
<text x="298" y="292.62" font-size="7.3" text-anchor="start" fill="#111" transform="rotate(0.02 298 292.62)">3'</text>
<text x="302.9" y="300.88" font-size="7.3" text-anchor="start" fill="#111" transform="rotate(0.02 302.9 300.88)">aa</text>
<line x1="315" y1="191.6" x2="485.6" y2="191.6" stroke="#262626" stroke-width="1.4"/>
<rect x="315" y="187.6" width="39" height="8" fill="#00c4ff"/>
<rect x="386.4" y="187.6" width="99.2" height="8" fill="#00c4ff"/>
<line x1="315" y1="204.15" x2="491.6" y2="204.15" stroke="#262626" stroke-width="1.4"/>
<rect x="315" y="200.15" width="39" height="8" fill="#00c4ff"/>
<rect x="389" y="200.15" width="102.6" height="8" fill="#00c4ff"/>
<line x1="315" y1="216.7" x2="493" y2="216.7" stroke="#262626" stroke-width="1.4"/>
<rect x="315" y="212.7" width="39" height="8" fill="#00c4ff"/>
<rect x="392" y="212.7" width="101" height="8" fill="#00c4ff"/>
<line x1="315" y1="229.25" x2="493" y2="229.25" stroke="#262626" stroke-width="1.4"/>
<rect x="315" y="225.25" width="39" height="8" fill="#00c4ff"/>
<rect x="392" y="225.25" width="101" height="8" fill="#00c4ff"/>
<line x1="315" y1="241.8" x2="414.4" y2="241.8" stroke="#262626" stroke-width="1.4"/>
<rect x="315" y="237.8" width="99.4" height="8" fill="#00c4ff"/>
<line x1="315" y1="254.35" x2="493" y2="254.35" stroke="#262626" stroke-width="1.4"/>
<rect x="315" y="250.35" width="39" height="8" fill="#00c4ff"/>
<rect x="392" y="250.35" width="101" height="8" fill="#00c4ff"/>
<line x1="315" y1="266.9" x2="493.4" y2="266.9" stroke="#262626" stroke-width="1.4"/>
<rect x="315" y="262.9" width="39" height="8" fill="#00c4ff"/>
<rect x="392" y="262.9" width="101.4" height="8" fill="#00c4ff"/>
<line x1="315" y1="279.45" x2="492.4" y2="279.45" stroke="#262626" stroke-width="1.4"/>
<rect x="315" y="275.45" width="39" height="8" fill="#00c4ff"/>
<rect x="393.4" y="275.45" width="99" height="8" fill="#00c4ff"/>
<line x1="315.2" y1="290.8" x2="499.02" y2="290.8" stroke="#222" stroke-width="1"/>
<line x1="315.7" y1="290.3" x2="315.7" y2="293.7" stroke="#222" stroke-width="1.2"/>
<text x="315.7" y="300.88" font-size="7.3" text-anchor="middle" fill="#111" transform="rotate(0.02 315.7 300.88)">0</text>
<line x1="346.17" y1="290.3" x2="346.17" y2="293.7" stroke="#222" stroke-width="1.2"/>
<text x="346.17" y="300.88" font-size="7.3" text-anchor="middle" fill="#111" transform="rotate(0.02 346.17 300.88)">100</text>
<line x1="376.64" y1="290.3" x2="376.64" y2="293.7" stroke="#222" stroke-width="1.2"/>
<text x="376.64" y="300.88" font-size="7.3" text-anchor="middle" fill="#111" transform="rotate(0.02 376.64 300.88)">200</text>
<line x1="407.11" y1="290.3" x2="407.11" y2="293.7" stroke="#222" stroke-width="1.2"/>
<text x="407.11" y="300.88" font-size="7.3" text-anchor="middle" fill="#111" transform="rotate(0.02 407.11 300.88)">300</text>
<line x1="437.58" y1="290.3" x2="437.58" y2="293.7" stroke="#222" stroke-width="1.2"/>
<text x="437.58" y="300.88" font-size="7.3" text-anchor="middle" fill="#111" transform="rotate(0.02 437.58 300.88)">400</text>
<line x1="468.05" y1="290.3" x2="468.05" y2="293.7" stroke="#222" stroke-width="1.2"/>
<text x="468.05" y="300.88" font-size="7.3" text-anchor="middle" fill="#111" transform="rotate(0.02 468.05 300.88)">500</text>
<line x1="498.52" y1="290.3" x2="498.52" y2="293.7" stroke="#222" stroke-width="1.2"/>
<text x="498.52" y="300.88" font-size="7.3" text-anchor="middle" fill="#111" transform="rotate(0.02 498.52 300.88)">600</text>
<text x="315" y="292.62" font-size="7.3" text-anchor="end" fill="#111" transform="rotate(0.02 315 292.62)">5'</text>
<text x="500.5" y="292.62" font-size="7.3" text-anchor="start" fill="#111" transform="rotate(0.02 500.5 292.62)">3'</text>
<text x="505" y="300.88" font-size="7.3" text-anchor="start" fill="#111" transform="rotate(0.02 505 300.88)">bp</text>
<rect x="511" y="188.55" width="10" height="7.9" fill="#f8588a"/>
<text x="522.8" y="195.12" font-size="7.4" text-anchor="start" fill="#111" transform="rotate(0.02 522.8 195.12)">Motif 3</text>
<rect x="511" y="199.95" width="10" height="7.9" fill="#33ad33"/>
<text x="522.8" y="206.62" font-size="7.4" text-anchor="start" fill="#111" transform="rotate(0.02 522.8 206.62)">Motif 1</text>
<rect x="511" y="211.35" width="10" height="7.9" fill="#0f837a"/>
<text x="522.8" y="218.12" font-size="7.4" text-anchor="start" fill="#111" transform="rotate(0.02 522.8 218.12)">Motif 4</text>
<rect x="511" y="222.75" width="10" height="7.9" fill="#ffcc00"/>
<text x="522.8" y="229.38" font-size="7.4" text-anchor="start" fill="#111" transform="rotate(0.02 522.8 229.38)">Motif 2</text>
<rect x="511" y="239.75" width="10" height="7.9" fill="#00c4ff"/>
<text x="522.8" y="246.38" font-size="7.4" text-anchor="start" fill="#111" transform="rotate(0.02 522.8 246.38)">CDS</text>
<text x="25.7" y="329.62" font-size="9.8" text-anchor="start" fill="#111" transform="rotate(0.02 25.7 329.62)">9110gt_CsZML3</text>
<text x="25.7" y="341.38" font-size="9.8" text-anchor="start" fill="#111" transform="rotate(0.02 25.7 341.38)">XTMC_CsZML3</text>
<text x="25.7" y="353.38" font-size="9.8" text-anchor="start" fill="#111" transform="rotate(0.02 25.7 353.38)">Cuc80_CsZML3</text>
<text x="25.7" y="365.12" font-size="9.8" text-anchor="start" fill="#111" transform="rotate(0.02 25.7 365.12)">Cuc37_CsZML3</text>
<text x="25.7" y="377.12" font-size="9.8" text-anchor="start" fill="#111" transform="rotate(0.02 25.7 377.12)">Cu2_CsZML3</text>
<text x="25.7" y="388.88" font-size="9.8" text-anchor="start" fill="#111" transform="rotate(0.02 25.7 388.88)">Gy14_CsZML3</text>
<text x="25.7" y="400.88" font-size="9.8" text-anchor="start" fill="#111" transform="rotate(0.02 25.7 400.88)">Cuc64_CsZML3</text>
<text x="25.7" y="412.62" font-size="9.8" text-anchor="start" fill="#111" transform="rotate(0.02 25.7 412.62)">W4_CsZML3</text>
<text x="25.7" y="424.62" font-size="9.8" text-anchor="start" fill="#111" transform="rotate(0.02 25.7 424.62)">W8_CsZML3</text>
<text x="25.7" y="436.38" font-size="9.8" text-anchor="start" fill="#111" transform="rotate(0.02 25.7 436.38)">V3_CsZML3</text>
<text x="25.7" y="448.38" font-size="9.8" text-anchor="start" fill="#111" transform="rotate(0.02 25.7 448.38)">Hx117_CsZML3</text>
<text x="25.7" y="460.12" font-size="9.8" text-anchor="start" fill="#111" transform="rotate(0.02 25.7 460.12)">Hx14_CsZML3</text>
<line x1="22.2" y1="325.6" x2="22.2" y2="338.47" stroke="#2a2a2a" stroke-width="1"/>
<line x1="22.2" y1="326.1" x2="24.9" y2="326.1" stroke="#2a2a2a" stroke-width="1"/>
<line x1="22.2" y1="337.97" x2="24.9" y2="337.97" stroke="#2a2a2a" stroke-width="1"/>
<line x1="19.4" y1="331.54" x2="19.4" y2="350.34" stroke="#2a2a2a" stroke-width="1"/>
<line x1="19.4" y1="332.04" x2="22.2" y2="332.04" stroke="#2a2a2a" stroke-width="1"/>
<line x1="19.4" y1="349.84" x2="24.9" y2="349.84" stroke="#2a2a2a" stroke-width="1"/>
<line x1="16.6" y1="340.44" x2="16.6" y2="362.21" stroke="#2a2a2a" stroke-width="1"/>
<line x1="16.6" y1="340.94" x2="19.4" y2="340.94" stroke="#2a2a2a" stroke-width="1"/>
<line x1="16.6" y1="361.71" x2="24.9" y2="361.71" stroke="#2a2a2a" stroke-width="1"/>
<line x1="13.6" y1="350.82" x2="13.6" y2="374.08" stroke="#2a2a2a" stroke-width="1"/>
<line x1="13.6" y1="351.32" x2="16.6" y2="351.32" stroke="#2a2a2a" stroke-width="1"/>
<line x1="13.6" y1="373.58" x2="24.9" y2="373.58" stroke="#2a2a2a" stroke-width="1"/>
<line x1="10.9" y1="361.95" x2="10.9" y2="385.95" stroke="#2a2a2a" stroke-width="1"/>
<line x1="10.9" y1="362.45" x2="13.6" y2="362.45" stroke="#2a2a2a" stroke-width="1"/>
<line x1="10.9" y1="385.45" x2="24.9" y2="385.45" stroke="#2a2a2a" stroke-width="1"/>
<line x1="12.1" y1="396.82" x2="12.1" y2="409.69" stroke="#2a2a2a" stroke-width="1"/>
<line x1="12.1" y1="397.32" x2="24.9" y2="397.32" stroke="#2a2a2a" stroke-width="1"/>
<line x1="12.1" y1="409.19" x2="24.9" y2="409.19" stroke="#2a2a2a" stroke-width="1"/>
<line x1="8.5" y1="373.45" x2="8.5" y2="403.75" stroke="#2a2a2a" stroke-width="1"/>
<line x1="8.5" y1="373.95" x2="10.9" y2="373.95" stroke="#2a2a2a" stroke-width="1"/>
<line x1="8.5" y1="403.25" x2="12.1" y2="403.25" stroke="#2a2a2a" stroke-width="1"/>
<line x1="14.5" y1="444.3" x2="14.5" y2="457.17" stroke="#2a2a2a" stroke-width="1"/>
<line x1="14.5" y1="444.8" x2="24.9" y2="444.8" stroke="#2a2a2a" stroke-width="1"/>
<line x1="14.5" y1="456.67" x2="24.9" y2="456.67" stroke="#2a2a2a" stroke-width="1"/>
<line x1="11.5" y1="432.43" x2="11.5" y2="451.24" stroke="#2a2a2a" stroke-width="1"/>
<line x1="11.5" y1="432.93" x2="24.9" y2="432.93" stroke="#2a2a2a" stroke-width="1"/>
<line x1="11.5" y1="450.74" x2="14.5" y2="450.74" stroke="#2a2a2a" stroke-width="1"/>
<line x1="9.1" y1="420.56" x2="9.1" y2="442.33" stroke="#2a2a2a" stroke-width="1"/>
<line x1="9.1" y1="421.06" x2="24.9" y2="421.06" stroke="#2a2a2a" stroke-width="1"/>
<line x1="9.1" y1="441.83" x2="11.5" y2="441.83" stroke="#2a2a2a" stroke-width="1"/>
<line x1="5.4" y1="388.1" x2="5.4" y2="431.95" stroke="#2a2a2a" stroke-width="1"/>
<line x1="5.4" y1="388.6" x2="8.5" y2="388.6" stroke="#2a2a2a" stroke-width="1"/>
<line x1="5.4" y1="431.45" x2="9.1" y2="431.45" stroke="#2a2a2a" stroke-width="1"/>
<line x1="105" y1="324.4" x2="286" y2="324.4" stroke="#222" stroke-width="1.2"/>
<rect x="105" y="320.4" width="25.6" height="8" fill="#ff0a20"/>
<rect x="133.6" y="320.4" width="9.4" height="8" fill="#9a95b9"/>
<rect x="146" y="320.4" width="26" height="8" fill="#f8588a"/>
<rect x="175.4" y="320.4" width="11.2" height="8" fill="#a2dc84"/>
<rect x="188" y="320.4" width="20.6" height="8" fill="#ffcc00"/>
<rect x="210.4" y="320.4" width="8.2" height="8" fill="#ff9900"/>
<rect x="221.6" y="320.4" width="26.8" height="8" fill="#33ad33"/>
<rect x="250" y="320.4" width="26.4" height="8" fill="#0f837a"/>
<rect x="278" y="320.4" width="5" height="8" fill="#66409a"/>
<line x1="105" y1="336.4" x2="286" y2="336.4" stroke="#222" stroke-width="1.2"/>
<rect x="105" y="332.4" width="25.6" height="8" fill="#ff0a20"/>
<rect x="133.6" y="332.4" width="9.4" height="8" fill="#9a95b9"/>
<rect x="146" y="332.4" width="26" height="8" fill="#f8588a"/>
<rect x="175.4" y="332.4" width="11.2" height="8" fill="#a2dc84"/>
<rect x="188" y="332.4" width="20.6" height="8" fill="#ffcc00"/>
<rect x="210.4" y="332.4" width="8.2" height="8" fill="#ff9900"/>
<rect x="221.6" y="332.4" width="26.8" height="8" fill="#33ad33"/>
<rect x="250" y="332.4" width="26.4" height="8" fill="#0f837a"/>
<rect x="278" y="332.4" width="5" height="8" fill="#66409a"/>
<line x1="105" y1="348.4" x2="286" y2="348.4" stroke="#222" stroke-width="1.2"/>
<rect x="105" y="344.4" width="25.6" height="8" fill="#ff0a20"/>
<rect x="133.6" y="344.4" width="9.4" height="8" fill="#9a95b9"/>
<rect x="146" y="344.4" width="26" height="8" fill="#f8588a"/>
<rect x="175.4" y="344.4" width="11.2" height="8" fill="#a2dc84"/>
<rect x="188" y="344.4" width="20.6" height="8" fill="#ffcc00"/>
<rect x="210.4" y="344.4" width="8.2" height="8" fill="#ff9900"/>
<rect x="221.6" y="344.4" width="26.8" height="8" fill="#33ad33"/>
<rect x="250" y="344.4" width="26.4" height="8" fill="#0f837a"/>
<rect x="278" y="344.4" width="5" height="8" fill="#66409a"/>
<line x1="105" y1="360.4" x2="286" y2="360.4" stroke="#222" stroke-width="1.2"/>
<rect x="105" y="356.4" width="25.6" height="8" fill="#ff0a20"/>
<rect x="133.6" y="356.4" width="9.4" height="8" fill="#9a95b9"/>
<rect x="146" y="356.4" width="26" height="8" fill="#f8588a"/>
<rect x="175.4" y="356.4" width="11.2" height="8" fill="#a2dc84"/>
<rect x="188" y="356.4" width="20.6" height="8" fill="#ffcc00"/>
<rect x="210.4" y="356.4" width="8.2" height="8" fill="#ff9900"/>
<rect x="221.6" y="356.4" width="26.8" height="8" fill="#33ad33"/>
<rect x="250" y="356.4" width="26.4" height="8" fill="#0f837a"/>
<rect x="278" y="356.4" width="5" height="8" fill="#66409a"/>
<line x1="105" y1="372.4" x2="286" y2="372.4" stroke="#222" stroke-width="1.2"/>
<rect x="105" y="368.4" width="25.6" height="8" fill="#ff0a20"/>
<rect x="133.6" y="368.4" width="9.4" height="8" fill="#9a95b9"/>
<rect x="146" y="368.4" width="26" height="8" fill="#f8588a"/>
<rect x="175.4" y="368.4" width="11.2" height="8" fill="#a2dc84"/>
<rect x="188" y="368.4" width="20.6" height="8" fill="#ffcc00"/>
<rect x="210.4" y="368.4" width="8.2" height="8" fill="#ff9900"/>
<rect x="221.6" y="368.4" width="26.8" height="8" fill="#33ad33"/>
<rect x="250" y="368.4" width="26.4" height="8" fill="#0f837a"/>
<rect x="278" y="368.4" width="5" height="8" fill="#66409a"/>
<line x1="105" y1="384.4" x2="286" y2="384.4" stroke="#222" stroke-width="1.2"/>
<rect x="105" y="380.4" width="25.6" height="8" fill="#ff0a20"/>
<rect x="133.6" y="380.4" width="9.4" height="8" fill="#9a95b9"/>
<rect x="146" y="380.4" width="26" height="8" fill="#f8588a"/>
<rect x="175.4" y="380.4" width="11.2" height="8" fill="#a2dc84"/>
<rect x="188" y="380.4" width="20.6" height="8" fill="#ffcc00"/>
<rect x="210.4" y="380.4" width="8.2" height="8" fill="#ff9900"/>
<rect x="221.6" y="380.4" width="26.8" height="8" fill="#33ad33"/>
<rect x="250" y="380.4" width="26.4" height="8" fill="#0f837a"/>
<rect x="278" y="380.4" width="5" height="8" fill="#66409a"/>
<line x1="105" y1="396.4" x2="286" y2="396.4" stroke="#222" stroke-width="1.2"/>
<rect x="105" y="392.4" width="25.6" height="8" fill="#ff0a20"/>
<rect x="133.6" y="392.4" width="9.4" height="8" fill="#9a95b9"/>
<rect x="146" y="392.4" width="26" height="8" fill="#f8588a"/>
<rect x="175.4" y="392.4" width="11.2" height="8" fill="#a2dc84"/>
<rect x="188" y="392.4" width="20.6" height="8" fill="#ffcc00"/>
<rect x="210.4" y="392.4" width="8.2" height="8" fill="#ff9900"/>
<rect x="221.6" y="392.4" width="26.8" height="8" fill="#33ad33"/>
<rect x="250" y="392.4" width="26.4" height="8" fill="#0f837a"/>
<rect x="278" y="392.4" width="5" height="8" fill="#66409a"/>
<line x1="105" y1="408.4" x2="286" y2="408.4" stroke="#222" stroke-width="1.2"/>
<rect x="105" y="404.4" width="25.6" height="8" fill="#ff0a20"/>
<rect x="133.6" y="404.4" width="9.4" height="8" fill="#9a95b9"/>
<rect x="146" y="404.4" width="26" height="8" fill="#f8588a"/>
<rect x="175.4" y="404.4" width="11.2" height="8" fill="#a2dc84"/>
<rect x="188" y="404.4" width="20.6" height="8" fill="#ffcc00"/>
<rect x="210.4" y="404.4" width="8.2" height="8" fill="#ff9900"/>
<rect x="221.6" y="404.4" width="26.8" height="8" fill="#33ad33"/>
<rect x="250" y="404.4" width="26.4" height="8" fill="#0f837a"/>
<rect x="278" y="404.4" width="5" height="8" fill="#66409a"/>
<line x1="105" y1="420.4" x2="280.6" y2="420.4" stroke="#222" stroke-width="1.2"/>
<rect x="105" y="416.4" width="25.6" height="8" fill="#ff0a20"/>
<rect x="133.6" y="416.4" width="9.4" height="8" fill="#9a95b9"/>
<rect x="146" y="416.4" width="26" height="8" fill="#f8588a"/>
<rect x="175.4" y="416.4" width="11.2" height="8" fill="#a2dc84"/>
<rect x="188" y="416.4" width="20.6" height="8" fill="#ffcc00"/>
<rect x="210.4" y="416.4" width="8.2" height="8" fill="#ff9900"/>
<rect x="221.6" y="416.4" width="26.8" height="8" fill="#33ad33"/>
<rect x="250" y="416.4" width="26.4" height="8" fill="#0f837a"/>
<rect x="278" y="416.4" width="1.7" height="8" fill="#fdb585"/>
<line x1="105" y1="432.4" x2="280" y2="432.4" stroke="#222" stroke-width="1.2"/>
<rect x="105" y="428.4" width="25.6" height="8" fill="#ff0a20"/>
<rect x="133.6" y="428.4" width="9.4" height="8" fill="#9a95b9"/>
<rect x="146" y="428.4" width="26" height="8" fill="#f8588a"/>
<rect x="175.4" y="428.4" width="11.2" height="8" fill="#a2dc84"/>
<rect x="188" y="428.4" width="20.6" height="8" fill="#ffcc00"/>
<rect x="210.4" y="428.4" width="8.2" height="8" fill="#ff9900"/>
<rect x="221.6" y="428.4" width="26.8" height="8" fill="#33ad33"/>
<rect x="250" y="428.4" width="26.4" height="8" fill="#0f837a"/>
<line x1="105" y1="444.4" x2="280" y2="444.4" stroke="#222" stroke-width="1.2"/>
<rect x="105" y="440.4" width="25.6" height="8" fill="#ff0a20"/>
<rect x="133.6" y="440.4" width="9.4" height="8" fill="#9a95b9"/>
<rect x="146" y="440.4" width="26" height="8" fill="#f8588a"/>
<rect x="175.4" y="440.4" width="11.2" height="8" fill="#a2dc84"/>
<rect x="188" y="440.4" width="20.6" height="8" fill="#ffcc00"/>
<rect x="210.4" y="440.4" width="8.2" height="8" fill="#ff9900"/>
<rect x="221.6" y="440.4" width="26.8" height="8" fill="#33ad33"/>
<rect x="250" y="440.4" width="26.4" height="8" fill="#0f837a"/>
<line x1="105" y1="456.4" x2="280" y2="456.4" stroke="#222" stroke-width="1.2"/>
<rect x="105" y="452.4" width="25.6" height="8" fill="#ff0a20"/>
<rect x="133.6" y="452.4" width="9.4" height="8" fill="#9a95b9"/>
<rect x="146" y="452.4" width="26" height="8" fill="#f8588a"/>
<rect x="175.4" y="452.4" width="11.2" height="8" fill="#a2dc84"/>
<rect x="188" y="452.4" width="20.6" height="8" fill="#ffcc00"/>
<rect x="210.4" y="452.4" width="8.2" height="8" fill="#ff9900"/>
<rect x="221.6" y="452.4" width="26.8" height="8" fill="#33ad33"/>
<rect x="250" y="452.4" width="26.4" height="8" fill="#0f837a"/>
<line x1="104.1" y1="468.2" x2="289.13" y2="468.2" stroke="#222" stroke-width="1"/>
<line x1="104.6" y1="467.7" x2="104.6" y2="471.1" stroke="#222" stroke-width="1.2"/>
<text x="104.25" y="478.38" font-size="7.3" text-anchor="middle" fill="#111" transform="rotate(0.02 104.25 478.38)">0</text>
<line x1="121.33" y1="467.7" x2="121.33" y2="471.1" stroke="#222" stroke-width="1.2"/>
<text x="120.63" y="478.38" font-size="7.3" text-anchor="middle" fill="#111" transform="rotate(0.02 120.63 478.38)">30</text>
<line x1="138.06" y1="467.7" x2="138.06" y2="471.1" stroke="#222" stroke-width="1.2"/>
<text x="137.36" y="478.38" font-size="7.3" text-anchor="middle" fill="#111" transform="rotate(0.02 137.36 478.38)">60</text>
<line x1="154.79" y1="467.7" x2="154.79" y2="471.1" stroke="#222" stroke-width="1.2"/>
<text x="154.09" y="478.38" font-size="7.3" text-anchor="middle" fill="#111" transform="rotate(0.02 154.09 478.38)">90</text>
<line x1="171.52" y1="467.7" x2="171.52" y2="471.1" stroke="#222" stroke-width="1.2"/>
<text x="170.47" y="478.38" font-size="7.3" text-anchor="middle" fill="#111" transform="rotate(0.02 170.47 478.38)">120</text>
<line x1="188.25" y1="467.7" x2="188.25" y2="471.1" stroke="#222" stroke-width="1.2"/>
<text x="187.2" y="478.38" font-size="7.3" text-anchor="middle" fill="#111" transform="rotate(0.02 187.2 478.38)">150</text>
<line x1="204.98" y1="467.7" x2="204.98" y2="471.1" stroke="#222" stroke-width="1.2"/>
<text x="203.93" y="478.38" font-size="7.3" text-anchor="middle" fill="#111" transform="rotate(0.02 203.93 478.38)">180</text>
<line x1="221.71" y1="467.7" x2="221.71" y2="471.1" stroke="#222" stroke-width="1.2"/>
<text x="220.66" y="478.38" font-size="7.3" text-anchor="middle" fill="#111" transform="rotate(0.02 220.66 478.38)">210</text>
<line x1="238.44" y1="467.7" x2="238.44" y2="471.1" stroke="#222" stroke-width="1.2"/>
<text x="237.39" y="478.38" font-size="7.3" text-anchor="middle" fill="#111" transform="rotate(0.02 237.39 478.38)">240</text>
<line x1="255.17" y1="467.7" x2="255.17" y2="471.1" stroke="#222" stroke-width="1.2"/>
<text x="254.12" y="478.38" font-size="7.3" text-anchor="middle" fill="#111" transform="rotate(0.02 254.12 478.38)">270</text>
<line x1="271.9" y1="467.7" x2="271.9" y2="471.1" stroke="#222" stroke-width="1.2"/>
<text x="270.85" y="478.38" font-size="7.3" text-anchor="middle" fill="#111" transform="rotate(0.02 270.85 478.38)">300</text>
<line x1="288.63" y1="467.7" x2="288.63" y2="471.1" stroke="#222" stroke-width="1.2"/>
<text x="287.58" y="478.38" font-size="7.3" text-anchor="middle" fill="#111" transform="rotate(0.02 287.58 478.38)">330</text>
<text x="103.6" y="470.12" font-size="7.3" text-anchor="end" fill="#111" transform="rotate(0.02 103.6 470.12)">5'</text>
<text x="290.3" y="470.12" font-size="7.3" text-anchor="start" fill="#111" transform="rotate(0.02 290.3 470.12)">3'</text>
<text x="294.1" y="478.38" font-size="7.3" text-anchor="start" fill="#111" transform="rotate(0.02 294.1 478.38)">aa</text>
<line x1="308.4" y1="324.4" x2="441" y2="324.4" stroke="#262626" stroke-width="1.4"/>
<rect x="308.4" y="320.4" width="9.6" height="8" fill="#00c4ff"/>
<rect x="339" y="320.4" width="2.6" height="8" fill="#00c4ff"/>
<rect x="344.6" y="320.4" width="3.8" height="8" fill="#00c4ff"/>
<rect x="384.6" y="320.4" width="3.4" height="8" fill="#00c4ff"/>
<rect x="395.4" y="320.4" width="3" height="8" fill="#00c4ff"/>
<rect x="429" y="320.4" width="2.4" height="8" fill="#00c4ff"/>
<rect x="437.6" y="320.4" width="3.4" height="8" fill="#00c4ff"/>
<line x1="308.4" y1="336.4" x2="441" y2="336.4" stroke="#262626" stroke-width="1.4"/>
<rect x="308.4" y="332.4" width="9.6" height="8" fill="#00c4ff"/>
<rect x="339" y="332.4" width="2.6" height="8" fill="#00c4ff"/>
<rect x="344.6" y="332.4" width="3.8" height="8" fill="#00c4ff"/>
<rect x="384.6" y="332.4" width="3.4" height="8" fill="#00c4ff"/>
<rect x="395.4" y="332.4" width="3" height="8" fill="#00c4ff"/>
<rect x="429" y="332.4" width="2.4" height="8" fill="#00c4ff"/>
<rect x="437.6" y="332.4" width="3.4" height="8" fill="#00c4ff"/>
<line x1="308.4" y1="348.4" x2="441" y2="348.4" stroke="#262626" stroke-width="1.4"/>
<rect x="308.4" y="344.4" width="9.6" height="8" fill="#00c4ff"/>
<rect x="339" y="344.4" width="2.6" height="8" fill="#00c4ff"/>
<rect x="344.6" y="344.4" width="3.8" height="8" fill="#00c4ff"/>
<rect x="384.6" y="344.4" width="3.4" height="8" fill="#00c4ff"/>
<rect x="395.4" y="344.4" width="3" height="8" fill="#00c4ff"/>
<rect x="429" y="344.4" width="2.4" height="8" fill="#00c4ff"/>
<rect x="437.6" y="344.4" width="3.4" height="8" fill="#00c4ff"/>
<line x1="308.4" y1="360.4" x2="441" y2="360.4" stroke="#262626" stroke-width="1.4"/>
<rect x="308.4" y="356.4" width="9.6" height="8" fill="#00c4ff"/>
<rect x="339" y="356.4" width="2.6" height="8" fill="#00c4ff"/>
<rect x="344.6" y="356.4" width="3.8" height="8" fill="#00c4ff"/>
<rect x="384.6" y="356.4" width="3.4" height="8" fill="#00c4ff"/>
<rect x="395.4" y="356.4" width="3" height="8" fill="#00c4ff"/>
<rect x="429" y="356.4" width="2.4" height="8" fill="#00c4ff"/>
<rect x="437.6" y="356.4" width="3.4" height="8" fill="#00c4ff"/>
<line x1="308.4" y1="372.4" x2="441" y2="372.4" stroke="#262626" stroke-width="1.4"/>
<rect x="308.4" y="368.4" width="9.6" height="8" fill="#00c4ff"/>
<rect x="339" y="368.4" width="2.6" height="8" fill="#00c4ff"/>
<rect x="344.6" y="368.4" width="3.8" height="8" fill="#00c4ff"/>
<rect x="384.6" y="368.4" width="3.4" height="8" fill="#00c4ff"/>
<rect x="395.4" y="368.4" width="3" height="8" fill="#00c4ff"/>
<rect x="429" y="368.4" width="2.4" height="8" fill="#00c4ff"/>
<rect x="437.6" y="368.4" width="3.4" height="8" fill="#00c4ff"/>
<line x1="308.4" y1="384.4" x2="441" y2="384.4" stroke="#262626" stroke-width="1.4"/>
<rect x="308.4" y="380.4" width="9.6" height="8" fill="#00c4ff"/>
<rect x="339" y="380.4" width="2.6" height="8" fill="#00c4ff"/>
<rect x="344.6" y="380.4" width="3.8" height="8" fill="#00c4ff"/>
<rect x="384.6" y="380.4" width="3.4" height="8" fill="#00c4ff"/>
<rect x="395.4" y="380.4" width="3" height="8" fill="#00c4ff"/>
<rect x="429" y="380.4" width="2.4" height="8" fill="#00c4ff"/>
<rect x="437.6" y="380.4" width="3.4" height="8" fill="#00c4ff"/>
<line x1="308.4" y1="396.4" x2="441" y2="396.4" stroke="#262626" stroke-width="1.4"/>
<rect x="308.4" y="392.4" width="9.6" height="8" fill="#00c4ff"/>
<rect x="339" y="392.4" width="2.6" height="8" fill="#00c4ff"/>
<rect x="344.6" y="392.4" width="3.8" height="8" fill="#00c4ff"/>
<rect x="384.6" y="392.4" width="3.4" height="8" fill="#00c4ff"/>
<rect x="395.4" y="392.4" width="3" height="8" fill="#00c4ff"/>
<rect x="429" y="392.4" width="2.4" height="8" fill="#00c4ff"/>
<rect x="437.6" y="392.4" width="3.4" height="8" fill="#00c4ff"/>
<line x1="308.4" y1="408.4" x2="441" y2="408.4" stroke="#262626" stroke-width="1.4"/>
<rect x="308.4" y="404.4" width="9.6" height="8" fill="#00c4ff"/>
<rect x="339" y="404.4" width="2.6" height="8" fill="#00c4ff"/>
<rect x="344.6" y="404.4" width="3.8" height="8" fill="#00c4ff"/>
<rect x="384.6" y="404.4" width="3.4" height="8" fill="#00c4ff"/>
<rect x="395.4" y="404.4" width="3" height="8" fill="#00c4ff"/>
<rect x="429" y="404.4" width="2.4" height="8" fill="#00c4ff"/>
<rect x="437.6" y="404.4" width="3.4" height="8" fill="#00c4ff"/>
<line x1="308.4" y1="420.4" x2="486" y2="420.4" stroke="#262626" stroke-width="1.4"/>
<rect x="308.4" y="416.4" width="9.6" height="8" fill="#00c4ff"/>
<rect x="339" y="416.4" width="2.6" height="8" fill="#00c4ff"/>
<rect x="344.6" y="416.4" width="3.8" height="8" fill="#00c4ff"/>
<rect x="384.6" y="416.4" width="3.4" height="8" fill="#00c4ff"/>
<rect x="395.4" y="416.4" width="3" height="8" fill="#00c4ff"/>
<rect x="429" y="416.4" width="2.4" height="8" fill="#00c4ff"/>
<rect x="437.6" y="416.4" width="2.4" height="8" fill="#00c4ff"/>
<rect x="485.4" y="416.4" width="1" height="8" fill="#00c4ff"/>
<line x1="308.4" y1="432.4" x2="443.6" y2="432.4" stroke="#262626" stroke-width="1.4"/>
<rect x="308.4" y="428.4" width="9.6" height="8" fill="#00c4ff"/>
<rect x="339" y="428.4" width="2.6" height="8" fill="#00c4ff"/>
<rect x="344.6" y="428.4" width="3.8" height="8" fill="#00c4ff"/>
<rect x="384.6" y="428.4" width="3.4" height="8" fill="#00c4ff"/>
<rect x="395.4" y="428.4" width="3" height="8" fill="#00c4ff"/>
<rect x="429" y="428.4" width="2.4" height="8" fill="#00c4ff"/>
<rect x="437.6" y="428.4" width="2.4" height="8" fill="#00c4ff"/>
<rect x="443.1" y="428.4" width="0.8" height="8" fill="#00c4ff"/>
<line x1="308.4" y1="444.4" x2="443.6" y2="444.4" stroke="#262626" stroke-width="1.4"/>
<rect x="308.4" y="440.4" width="9.6" height="8" fill="#00c4ff"/>
<rect x="339" y="440.4" width="2.6" height="8" fill="#00c4ff"/>
<rect x="344.6" y="440.4" width="3.8" height="8" fill="#00c4ff"/>
<rect x="384.6" y="440.4" width="3.4" height="8" fill="#00c4ff"/>
<rect x="395.4" y="440.4" width="3" height="8" fill="#00c4ff"/>
<rect x="429" y="440.4" width="2.4" height="8" fill="#00c4ff"/>
<rect x="437.6" y="440.4" width="2.4" height="8" fill="#00c4ff"/>
<rect x="443.1" y="440.4" width="0.8" height="8" fill="#00c4ff"/>
<line x1="308.4" y1="456.4" x2="443.6" y2="456.4" stroke="#262626" stroke-width="1.4"/>
<rect x="308.4" y="452.4" width="9.6" height="8" fill="#00c4ff"/>
<rect x="339" y="452.4" width="2.6" height="8" fill="#00c4ff"/>
<rect x="344.6" y="452.4" width="3.8" height="8" fill="#00c4ff"/>
<rect x="384.6" y="452.4" width="3.4" height="8" fill="#00c4ff"/>
<rect x="395.4" y="452.4" width="3" height="8" fill="#00c4ff"/>
<rect x="429" y="452.4" width="2.4" height="8" fill="#00c4ff"/>
<rect x="437.6" y="452.4" width="2.4" height="8" fill="#00c4ff"/>
<rect x="443.1" y="452.4" width="0.8" height="8" fill="#00c4ff"/>
<line x1="308" y1="468.2" x2="507.8" y2="468.2" stroke="#222" stroke-width="1"/>
<line x1="308.5" y1="467.7" x2="308.5" y2="471.1" stroke="#222" stroke-width="1.2"/>
<text x="308.4" y="478.38" font-size="7.3" text-anchor="middle" fill="#111" transform="rotate(0.02 308.4 478.38)">0</text>
<line x1="336.9" y1="467.7" x2="336.9" y2="471.1" stroke="#222" stroke-width="1.2"/>
<text x="336.5" y="478.38" font-size="7.3" text-anchor="middle" fill="#111" transform="rotate(0.02 336.5 478.38)">1000</text>
<line x1="365.3" y1="467.7" x2="365.3" y2="471.1" stroke="#222" stroke-width="1.2"/>
<text x="364.9" y="478.38" font-size="7.3" text-anchor="middle" fill="#111" transform="rotate(0.02 364.9 478.38)">2000</text>
<line x1="393.7" y1="467.7" x2="393.7" y2="471.1" stroke="#222" stroke-width="1.2"/>
<text x="393.3" y="478.38" font-size="7.3" text-anchor="middle" fill="#111" transform="rotate(0.02 393.3 478.38)">3000</text>
<line x1="422.1" y1="467.7" x2="422.1" y2="471.1" stroke="#222" stroke-width="1.2"/>
<text x="421.7" y="478.38" font-size="7.3" text-anchor="middle" fill="#111" transform="rotate(0.02 421.7 478.38)">4000</text>
<line x1="450.5" y1="467.7" x2="450.5" y2="471.1" stroke="#222" stroke-width="1.2"/>
<text x="450.1" y="478.38" font-size="7.3" text-anchor="middle" fill="#111" transform="rotate(0.02 450.1 478.38)">5000</text>
<line x1="478.9" y1="467.7" x2="478.9" y2="471.1" stroke="#222" stroke-width="1.2"/>
<text x="478.5" y="478.38" font-size="7.3" text-anchor="middle" fill="#111" transform="rotate(0.02 478.5 478.38)">6000</text>
<line x1="507.3" y1="467.7" x2="507.3" y2="471.1" stroke="#222" stroke-width="1.2"/>
<text x="506.9" y="478.38" font-size="7.3" text-anchor="middle" fill="#111" transform="rotate(0.02 506.9 478.38)">7000</text>
<text x="306.8" y="470.12" font-size="7.3" text-anchor="end" fill="#111" transform="rotate(0.02 306.8 470.12)">5'</text>
<text x="509.6" y="470.12" font-size="7.3" text-anchor="start" fill="#111" transform="rotate(0.02 509.6 470.12)">3'</text>
<text x="517.5" y="478.38" font-size="7.3" text-anchor="start" fill="#111" transform="rotate(0.02 517.5 478.38)">bp</text>
<rect x="506.9" y="319.85" width="10" height="7.9" fill="#ff0a20"/>
<text x="518.6" y="326.62" font-size="7.4" text-anchor="start" fill="#111" transform="rotate(0.02 518.6 326.62)">Motif 5</text>
<rect x="506.9" y="330.13" width="10" height="7.9" fill="#9a95b9"/>
<text x="518.6" y="336.88" font-size="7.4" text-anchor="start" fill="#111" transform="rotate(0.02 518.6 336.88)">Motif 6</text>
<rect x="506.9" y="340.41" width="10" height="7.9" fill="#f8588a"/>
<text x="518.6" y="347.12" font-size="7.4" text-anchor="start" fill="#111" transform="rotate(0.02 518.6 347.12)">Motif 3</text>
<rect x="506.9" y="350.69" width="10" height="7.9" fill="#a2dc84"/>
<text x="518.6" y="357.38" font-size="7.4" text-anchor="start" fill="#111" transform="rotate(0.02 518.6 357.38)">Motif 7</text>
<rect x="506.9" y="360.97" width="10" height="7.9" fill="#ffcc00"/>
<text x="518.6" y="367.62" font-size="7.4" text-anchor="start" fill="#111" transform="rotate(0.02 518.6 367.62)">Motif 2</text>
<rect x="506.9" y="371.25" width="10" height="7.9" fill="#ff9900"/>
<text x="518.6" y="377.88" font-size="7.4" text-anchor="start" fill="#111" transform="rotate(0.02 518.6 377.88)">Motif 8</text>
<rect x="506.9" y="381.53" width="10" height="7.9" fill="#33ad33"/>
<text x="518.6" y="388.12" font-size="7.4" text-anchor="start" fill="#111" transform="rotate(0.02 518.6 388.12)">Motif 1</text>
<rect x="506.9" y="391.81" width="10" height="7.9" fill="#0f837a"/>
<text x="518.6" y="398.38" font-size="7.4" text-anchor="start" fill="#111" transform="rotate(0.02 518.6 398.38)">Motif 4</text>
<rect x="506.9" y="402.09" width="10" height="7.9" fill="#66409a"/>
<text x="518.6" y="408.62" font-size="7.4" text-anchor="start" fill="#111" transform="rotate(0.02 518.6 408.62)">Motif 9</text>
<rect x="506.9" y="412.37" width="10" height="7.9" fill="#fdb585"/>
<text x="518.6" y="419.12" font-size="7.4" text-anchor="start" fill="#111" transform="rotate(0.02 518.6 419.12)">Motif 10</text>
<rect x="506.9" y="428.55" width="10" height="7.9" fill="#00c4ff"/>
<text x="518.6" y="435.12" font-size="7.4" text-anchor="start" fill="#111" transform="rotate(0.02 518.6 435.12)">CDS</text>
<text x="32.6" y="506.38" font-size="9.8" text-anchor="start" fill="#111" transform="rotate(0.02 32.6 506.38)">Cu2_CsPPD1</text>
<text x="32.6" y="518.38" font-size="9.8" text-anchor="start" fill="#111" transform="rotate(0.02 32.6 518.38)">W8_CsPPD1</text>
<text x="32.6" y="530.12" font-size="9.8" text-anchor="start" fill="#111" transform="rotate(0.02 32.6 530.12)">Cuc64_CsPPD1</text>
<text x="32.6" y="542.12" font-size="9.8" text-anchor="start" fill="#111" transform="rotate(0.02 32.6 542.12)">Cuc37_CsPPD1</text>
<text x="32.6" y="554.12" font-size="9.8" text-anchor="start" fill="#111" transform="rotate(0.02 32.6 554.12)">W4_CsPPD1</text>
<text x="32.6" y="566.12" font-size="9.8" text-anchor="start" fill="#111" transform="rotate(0.02 32.6 566.12)">Gy14_CsPPD1</text>
<text x="32.6" y="577.88" font-size="9.8" text-anchor="start" fill="#111" transform="rotate(0.02 32.6 577.88)">Cuc80_CsPPD1</text>
<text x="32.6" y="589.88" font-size="9.8" text-anchor="start" fill="#111" transform="rotate(0.02 32.6 589.88)">9110gt_CsPPD1</text>
<text x="32.6" y="601.88" font-size="9.8" text-anchor="start" fill="#111" transform="rotate(0.02 32.6 601.88)">V3_CsPPD1</text>
<text x="32.6" y="613.62" font-size="9.8" text-anchor="start" fill="#111" transform="rotate(0.02 32.6 613.62)">XTMC_CsPPD1</text>
<text x="32.6" y="625.62" font-size="9.8" text-anchor="start" fill="#111" transform="rotate(0.02 32.6 625.62)">Hx14_CsPPD1</text>
<text x="32.6" y="637.62" font-size="9.8" text-anchor="start" fill="#111" transform="rotate(0.02 32.6 637.62)">Hx117_CsPPD1</text>
<line x1="29" y1="502.4" x2="29" y2="515.32" stroke="#2a2a2a" stroke-width="1"/>
<line x1="29" y1="502.9" x2="31.8" y2="502.9" stroke="#2a2a2a" stroke-width="1"/>
<line x1="29" y1="514.82" x2="31.8" y2="514.82" stroke="#2a2a2a" stroke-width="1"/>
<line x1="26.4" y1="508.36" x2="26.4" y2="527.24" stroke="#2a2a2a" stroke-width="1"/>
<line x1="26.4" y1="508.86" x2="29" y2="508.86" stroke="#2a2a2a" stroke-width="1"/>
<line x1="26.4" y1="526.74" x2="31.8" y2="526.74" stroke="#2a2a2a" stroke-width="1"/>
<line x1="29" y1="550.08" x2="29" y2="563" stroke="#2a2a2a" stroke-width="1"/>
<line x1="29" y1="550.58" x2="31.8" y2="550.58" stroke="#2a2a2a" stroke-width="1"/>
<line x1="29" y1="562.5" x2="31.8" y2="562.5" stroke="#2a2a2a" stroke-width="1"/>
<line x1="26.4" y1="538.16" x2="26.4" y2="557.04" stroke="#2a2a2a" stroke-width="1"/>
<line x1="26.4" y1="538.66" x2="31.8" y2="538.66" stroke="#2a2a2a" stroke-width="1"/>
<line x1="26.4" y1="556.54" x2="29" y2="556.54" stroke="#2a2a2a" stroke-width="1"/>
<line x1="23.6" y1="517.3" x2="23.6" y2="548.1" stroke="#2a2a2a" stroke-width="1"/>
<line x1="23.6" y1="517.8" x2="26.4" y2="517.8" stroke="#2a2a2a" stroke-width="1"/>
<line x1="23.6" y1="547.6" x2="26.4" y2="547.6" stroke="#2a2a2a" stroke-width="1"/>
<line x1="21" y1="532.2" x2="21" y2="574.92" stroke="#2a2a2a" stroke-width="1"/>
<line x1="21" y1="532.7" x2="23.6" y2="532.7" stroke="#2a2a2a" stroke-width="1"/>
<line x1="21" y1="574.42" x2="31.8" y2="574.42" stroke="#2a2a2a" stroke-width="1"/>
<line x1="18.2" y1="553.06" x2="18.2" y2="586.84" stroke="#2a2a2a" stroke-width="1"/>
<line x1="18.2" y1="553.56" x2="21" y2="553.56" stroke="#2a2a2a" stroke-width="1"/>
<line x1="18.2" y1="586.34" x2="31.8" y2="586.34" stroke="#2a2a2a" stroke-width="1"/>
<line x1="15.5" y1="569.45" x2="15.5" y2="598.76" stroke="#2a2a2a" stroke-width="1"/>
<line x1="15.5" y1="569.95" x2="18.2" y2="569.95" stroke="#2a2a2a" stroke-width="1"/>
<line x1="15.5" y1="598.26" x2="31.8" y2="598.26" stroke="#2a2a2a" stroke-width="1"/>
<line x1="12.7" y1="583.61" x2="12.7" y2="610.68" stroke="#2a2a2a" stroke-width="1"/>
<line x1="12.7" y1="584.11" x2="15.5" y2="584.11" stroke="#2a2a2a" stroke-width="1"/>
<line x1="12.7" y1="610.18" x2="31.8" y2="610.18" stroke="#2a2a2a" stroke-width="1"/>
<line x1="9.9" y1="596.64" x2="9.9" y2="634.52" stroke="#2a2a2a" stroke-width="1"/>
<line x1="9.9" y1="597.14" x2="12.7" y2="597.14" stroke="#2a2a2a" stroke-width="1"/>
<line x1="9.9" y1="622.1" x2="31.8" y2="622.1" stroke="#2a2a2a" stroke-width="1"/>
<line x1="9.9" y1="634.02" x2="31.8" y2="634.02" stroke="#2a2a2a" stroke-width="1"/>
<line x1="109" y1="502.6" x2="285" y2="502.6" stroke="#222" stroke-width="1.2"/>
<rect x="110.4" y="498.6" width="2" height="8" fill="#66409a"/>
<rect x="112.4" y="498.6" width="25.6" height="8" fill="#0f837a"/>
<rect x="140" y="498.6" width="14.4" height="8" fill="#a2dc84"/>
<rect x="154.9" y="498.6" width="1.7" height="8" fill="#fdb585"/>
<rect x="158" y="498.6" width="25.4" height="8" fill="#ff0a20"/>
<rect x="183.4" y="498.6" width="26.2" height="8" fill="#33ad33"/>
<rect x="209.6" y="498.6" width="25.8" height="8" fill="#f8588a"/>
<rect x="235.4" y="498.6" width="14.6" height="8" fill="#9a95b9"/>
<rect x="252.4" y="498.6" width="25.6" height="8" fill="#ffcc00"/>
<rect x="278" y="498.6" width="4.6" height="8" fill="#ff9900"/>
<line x1="109" y1="514.64" x2="285" y2="514.64" stroke="#222" stroke-width="1.2"/>
<rect x="110.4" y="510.64" width="2" height="8" fill="#66409a"/>
<rect x="112.4" y="510.64" width="25.6" height="8" fill="#0f837a"/>
<rect x="140" y="510.64" width="14.4" height="8" fill="#a2dc84"/>
<rect x="154.9" y="510.64" width="1.7" height="8" fill="#fdb585"/>
<rect x="158" y="510.64" width="25.4" height="8" fill="#ff0a20"/>
<rect x="183.4" y="510.64" width="26.2" height="8" fill="#33ad33"/>
<rect x="209.6" y="510.64" width="25.8" height="8" fill="#f8588a"/>
<rect x="235.4" y="510.64" width="14.6" height="8" fill="#9a95b9"/>
<rect x="252.4" y="510.64" width="25.6" height="8" fill="#ffcc00"/>
<rect x="278" y="510.64" width="4.6" height="8" fill="#ff9900"/>
<line x1="109" y1="526.68" x2="285" y2="526.68" stroke="#222" stroke-width="1.2"/>
<rect x="110.4" y="522.68" width="2" height="8" fill="#66409a"/>
<rect x="112.4" y="522.68" width="25.6" height="8" fill="#0f837a"/>
<rect x="140" y="522.68" width="14.4" height="8" fill="#a2dc84"/>
<rect x="154.9" y="522.68" width="1.7" height="8" fill="#fdb585"/>
<rect x="158" y="522.68" width="25.4" height="8" fill="#ff0a20"/>
<rect x="183.4" y="522.68" width="26.2" height="8" fill="#33ad33"/>
<rect x="209.6" y="522.68" width="25.8" height="8" fill="#f8588a"/>
<rect x="235.4" y="522.68" width="14.6" height="8" fill="#9a95b9"/>
<rect x="252.4" y="522.68" width="25.6" height="8" fill="#ffcc00"/>
<rect x="278" y="522.68" width="4.6" height="8" fill="#ff9900"/>
<line x1="109" y1="538.72" x2="285" y2="538.72" stroke="#222" stroke-width="1.2"/>
<rect x="110.4" y="534.72" width="2" height="8" fill="#66409a"/>
<rect x="112.4" y="534.72" width="25.6" height="8" fill="#0f837a"/>
<rect x="140" y="534.72" width="14.4" height="8" fill="#a2dc84"/>
<rect x="154.9" y="534.72" width="1.7" height="8" fill="#fdb585"/>
<rect x="158" y="534.72" width="25.4" height="8" fill="#ff0a20"/>
<rect x="183.4" y="534.72" width="26.2" height="8" fill="#33ad33"/>
<rect x="209.6" y="534.72" width="25.8" height="8" fill="#f8588a"/>
<rect x="235.4" y="534.72" width="14.6" height="8" fill="#9a95b9"/>
<rect x="252.4" y="534.72" width="25.6" height="8" fill="#ffcc00"/>
<rect x="278" y="534.72" width="4.6" height="8" fill="#ff9900"/>
<line x1="109" y1="550.76" x2="285" y2="550.76" stroke="#222" stroke-width="1.2"/>
<rect x="110.4" y="546.76" width="2" height="8" fill="#66409a"/>
<rect x="112.4" y="546.76" width="25.6" height="8" fill="#0f837a"/>
<rect x="140" y="546.76" width="14.4" height="8" fill="#a2dc84"/>
<rect x="154.9" y="546.76" width="1.7" height="8" fill="#fdb585"/>
<rect x="158" y="546.76" width="25.4" height="8" fill="#ff0a20"/>
<rect x="183.4" y="546.76" width="26.2" height="8" fill="#33ad33"/>
<rect x="209.6" y="546.76" width="25.8" height="8" fill="#f8588a"/>
<rect x="235.4" y="546.76" width="14.6" height="8" fill="#9a95b9"/>
<rect x="252.4" y="546.76" width="25.6" height="8" fill="#ffcc00"/>
<rect x="278" y="546.76" width="4.6" height="8" fill="#ff9900"/>
<line x1="109" y1="562.8" x2="268.4" y2="562.8" stroke="#222" stroke-width="1.2"/>
<rect x="110.4" y="558.8" width="2" height="8" fill="#66409a"/>
<rect x="112.4" y="558.8" width="25.6" height="8" fill="#0f837a"/>
<rect x="140" y="558.8" width="14.4" height="8" fill="#a2dc84"/>
<rect x="154.9" y="558.8" width="1.7" height="8" fill="#fdb585"/>
<rect x="158" y="558.8" width="25.4" height="8" fill="#ff0a20"/>
<rect x="183.4" y="558.8" width="26.2" height="8" fill="#33ad33"/>
<rect x="209.6" y="558.8" width="25.8" height="8" fill="#f8588a"/>
<rect x="236" y="558.8" width="25.4" height="8" fill="#ffcc00"/>
<rect x="261.4" y="558.8" width="5.2" height="8" fill="#ff9900"/>
<line x1="109" y1="574.84" x2="285" y2="574.84" stroke="#222" stroke-width="1.2"/>
<rect x="110.4" y="570.84" width="2" height="8" fill="#66409a"/>
<rect x="112.4" y="570.84" width="25.6" height="8" fill="#0f837a"/>
<rect x="140" y="570.84" width="14.4" height="8" fill="#a2dc84"/>
<rect x="154.9" y="570.84" width="1.7" height="8" fill="#fdb585"/>
<rect x="158" y="570.84" width="25.4" height="8" fill="#ff0a20"/>
<rect x="183.4" y="570.84" width="26.2" height="8" fill="#33ad33"/>
<rect x="209.6" y="570.84" width="25.8" height="8" fill="#f8588a"/>
<rect x="235.4" y="570.84" width="14.6" height="8" fill="#9a95b9"/>
<rect x="252.4" y="570.84" width="25.6" height="8" fill="#ffcc00"/>
<rect x="278" y="570.84" width="4.6" height="8" fill="#ff9900"/>
<line x1="109" y1="586.88" x2="285" y2="586.88" stroke="#222" stroke-width="1.2"/>
<rect x="110.4" y="582.88" width="2" height="8" fill="#66409a"/>
<rect x="112.4" y="582.88" width="25.6" height="8" fill="#0f837a"/>
<rect x="140" y="582.88" width="14.4" height="8" fill="#a2dc84"/>
<rect x="154.9" y="582.88" width="1.7" height="8" fill="#fdb585"/>
<rect x="158" y="582.88" width="25.4" height="8" fill="#ff0a20"/>
<rect x="183.4" y="582.88" width="26.2" height="8" fill="#33ad33"/>
<rect x="209.6" y="582.88" width="25.8" height="8" fill="#f8588a"/>
<rect x="235.4" y="582.88" width="14.6" height="8" fill="#9a95b9"/>
<rect x="252.4" y="582.88" width="25.6" height="8" fill="#ffcc00"/>
<rect x="278" y="582.88" width="4.6" height="8" fill="#ff9900"/>
<line x1="109" y1="598.92" x2="285" y2="598.92" stroke="#222" stroke-width="1.2"/>
<rect x="110.4" y="594.92" width="2" height="8" fill="#66409a"/>
<rect x="112.4" y="594.92" width="25.6" height="8" fill="#0f837a"/>
<rect x="140" y="594.92" width="14.4" height="8" fill="#a2dc84"/>
<rect x="154.9" y="594.92" width="1.7" height="8" fill="#fdb585"/>
<rect x="158" y="594.92" width="25.4" height="8" fill="#ff0a20"/>
<rect x="183.4" y="594.92" width="26.2" height="8" fill="#33ad33"/>
<rect x="209.6" y="594.92" width="25.8" height="8" fill="#f8588a"/>
<rect x="235.4" y="594.92" width="14.6" height="8" fill="#9a95b9"/>
<rect x="252.4" y="594.92" width="25.6" height="8" fill="#ffcc00"/>
<rect x="278" y="594.92" width="4.6" height="8" fill="#ff9900"/>
<line x1="109" y1="610.96" x2="285" y2="610.96" stroke="#222" stroke-width="1.2"/>
<rect x="110.4" y="606.96" width="2" height="8" fill="#66409a"/>
<rect x="112.4" y="606.96" width="25.6" height="8" fill="#0f837a"/>
<rect x="140" y="606.96" width="14.4" height="8" fill="#a2dc84"/>
<rect x="154.9" y="606.96" width="1.7" height="8" fill="#fdb585"/>
<rect x="158" y="606.96" width="25.4" height="8" fill="#ff0a20"/>
<rect x="183.4" y="606.96" width="26.2" height="8" fill="#33ad33"/>
<rect x="209.6" y="606.96" width="25.8" height="8" fill="#f8588a"/>
<rect x="235.4" y="606.96" width="14.6" height="8" fill="#9a95b9"/>
<rect x="252.4" y="606.96" width="25.6" height="8" fill="#ffcc00"/>
<rect x="278" y="606.96" width="4.6" height="8" fill="#ff9900"/>
<line x1="109" y1="623" x2="285" y2="623" stroke="#222" stroke-width="1.2"/>
<rect x="110.4" y="619" width="2" height="8" fill="#66409a"/>
<rect x="112.4" y="619" width="25.6" height="8" fill="#0f837a"/>
<rect x="140" y="619" width="14.4" height="8" fill="#a2dc84"/>
<rect x="154.9" y="619" width="1.7" height="8" fill="#fdb585"/>
<rect x="158" y="619" width="25.4" height="8" fill="#ff0a20"/>
<rect x="183.4" y="619" width="26.2" height="8" fill="#33ad33"/>
<rect x="209.6" y="619" width="25.8" height="8" fill="#f8588a"/>
<rect x="235.4" y="619" width="14.6" height="8" fill="#9a95b9"/>
<rect x="252.4" y="619" width="25.6" height="8" fill="#ffcc00"/>
<rect x="278" y="619" width="4.6" height="8" fill="#ff9900"/>
<line x1="109" y1="635.04" x2="217.6" y2="635.04" stroke="#222" stroke-width="1.2"/>
<rect x="117.4" y="631.04" width="25.2" height="8" fill="#33ad33"/>
<rect x="142.6" y="631.04" width="25.4" height="8" fill="#f8588a"/>
<rect x="168" y="631.04" width="15.6" height="8" fill="#9a95b9"/>
<rect x="185.6" y="631.04" width="25.4" height="8" fill="#ffcc00"/>
<rect x="211" y="631.04" width="4.6" height="8" fill="#ff9900"/>
<line x1="108.5" y1="645.6" x2="293.46" y2="645.6" stroke="#222" stroke-width="1"/>
<line x1="109" y1="645.1" x2="109" y2="648.5" stroke="#222" stroke-width="1.2"/>
<text x="108.4" y="655.62" font-size="7.3" text-anchor="middle" fill="#111" transform="rotate(0.02 108.4 655.62)">0</text>
<line x1="124.33" y1="645.1" x2="124.33" y2="648.5" stroke="#222" stroke-width="1.2"/>
<text x="123.13" y="655.62" font-size="7.3" text-anchor="middle" fill="#111" transform="rotate(0.02 123.13 655.62)">30</text>
<line x1="139.66" y1="645.1" x2="139.66" y2="648.5" stroke="#222" stroke-width="1.2"/>
<text x="138.46" y="655.62" font-size="7.3" text-anchor="middle" fill="#111" transform="rotate(0.02 138.46 655.62)">60</text>
<line x1="154.99" y1="645.1" x2="154.99" y2="648.5" stroke="#222" stroke-width="1.2"/>
<text x="153.79" y="655.62" font-size="7.3" text-anchor="middle" fill="#111" transform="rotate(0.02 153.79 655.62)">90</text>
<line x1="170.32" y1="645.1" x2="170.32" y2="648.5" stroke="#222" stroke-width="1.2"/>
<text x="168.52" y="655.62" font-size="7.3" text-anchor="middle" fill="#111" transform="rotate(0.02 168.52 655.62)">120</text>
<line x1="185.65" y1="645.1" x2="185.65" y2="648.5" stroke="#222" stroke-width="1.2"/>
<text x="183.85" y="655.62" font-size="7.3" text-anchor="middle" fill="#111" transform="rotate(0.02 183.85 655.62)">150</text>
<line x1="200.98" y1="645.1" x2="200.98" y2="648.5" stroke="#222" stroke-width="1.2"/>
<text x="199.18" y="655.62" font-size="7.3" text-anchor="middle" fill="#111" transform="rotate(0.02 199.18 655.62)">180</text>
<line x1="216.31" y1="645.1" x2="216.31" y2="648.5" stroke="#222" stroke-width="1.2"/>
<text x="214.51" y="655.62" font-size="7.3" text-anchor="middle" fill="#111" transform="rotate(0.02 214.51 655.62)">210</text>
<line x1="231.64" y1="645.1" x2="231.64" y2="648.5" stroke="#222" stroke-width="1.2"/>
<text x="229.84" y="655.62" font-size="7.3" text-anchor="middle" fill="#111" transform="rotate(0.02 229.84 655.62)">240</text>
<line x1="246.97" y1="645.1" x2="246.97" y2="648.5" stroke="#222" stroke-width="1.2"/>
<text x="245.17" y="655.62" font-size="7.3" text-anchor="middle" fill="#111" transform="rotate(0.02 245.17 655.62)">270</text>
<line x1="262.3" y1="645.1" x2="262.3" y2="648.5" stroke="#222" stroke-width="1.2"/>
<text x="260.5" y="655.62" font-size="7.3" text-anchor="middle" fill="#111" transform="rotate(0.02 260.5 655.62)">300</text>
<line x1="277.63" y1="645.1" x2="277.63" y2="648.5" stroke="#222" stroke-width="1.2"/>
<text x="275.83" y="655.62" font-size="7.3" text-anchor="middle" fill="#111" transform="rotate(0.02 275.83 655.62)">330</text>
<line x1="292.96" y1="645.1" x2="292.96" y2="648.5" stroke="#222" stroke-width="1.2"/>
<text x="291.16" y="655.62" font-size="7.3" text-anchor="middle" fill="#111" transform="rotate(0.02 291.16 655.62)">360</text>
<text x="107.8" y="647.38" font-size="7.3" text-anchor="end" fill="#111" transform="rotate(0.02 107.8 647.38)">5'</text>
<text x="295.2" y="647.38" font-size="7.3" text-anchor="start" fill="#111" transform="rotate(0.02 295.2 647.38)">3'</text>
<text x="299.2" y="655.62" font-size="7.3" text-anchor="start" fill="#111" transform="rotate(0.02 299.2 655.62)">aa</text>
<line x1="311.6" y1="502.6" x2="476" y2="502.6" stroke="#262626" stroke-width="1.4"/>
<rect x="311.6" y="498.6" width="4" height="8" fill="#00c4ff"/>
<rect x="325.4" y="498.6" width="4.6" height="8" fill="#00c4ff"/>
<rect x="339.4" y="498.6" width="6.2" height="8" fill="#00c4ff"/>
<rect x="379.6" y="498.6" width="2.4" height="8" fill="#00c4ff"/>
<rect x="386.6" y="498.6" width="6.4" height="8" fill="#00c4ff"/>
<rect x="418.4" y="498.6" width="2.6" height="8" fill="#00c4ff"/>
<rect x="440.4" y="498.6" width="2.2" height="8" fill="#00c4ff"/>
<rect x="448.4" y="498.6" width="8.6" height="8" fill="#00c4ff"/>
<rect x="475.2" y="498.6" width="1" height="8" fill="#00c4ff"/>
<line x1="311.6" y1="514.64" x2="476" y2="514.64" stroke="#262626" stroke-width="1.4"/>
<rect x="311.6" y="510.64" width="4" height="8" fill="#00c4ff"/>
<rect x="325.4" y="510.64" width="4.6" height="8" fill="#00c4ff"/>
<rect x="339.4" y="510.64" width="6.2" height="8" fill="#00c4ff"/>
<rect x="379.6" y="510.64" width="2.4" height="8" fill="#00c4ff"/>
<rect x="386.6" y="510.64" width="6.4" height="8" fill="#00c4ff"/>
<rect x="418.4" y="510.64" width="2.6" height="8" fill="#00c4ff"/>
<rect x="440.4" y="510.64" width="2.2" height="8" fill="#00c4ff"/>
<rect x="448.4" y="510.64" width="8.6" height="8" fill="#00c4ff"/>
<rect x="475.2" y="510.64" width="1" height="8" fill="#00c4ff"/>
<line x1="311.6" y1="526.68" x2="476" y2="526.68" stroke="#262626" stroke-width="1.4"/>
<rect x="311.6" y="522.68" width="4" height="8" fill="#00c4ff"/>
<rect x="325.4" y="522.68" width="4.6" height="8" fill="#00c4ff"/>
<rect x="339.4" y="522.68" width="6.2" height="8" fill="#00c4ff"/>
<rect x="379.6" y="522.68" width="2.4" height="8" fill="#00c4ff"/>
<rect x="386.6" y="522.68" width="6.4" height="8" fill="#00c4ff"/>
<rect x="418.4" y="522.68" width="2.6" height="8" fill="#00c4ff"/>
<rect x="440.4" y="522.68" width="2.2" height="8" fill="#00c4ff"/>
<rect x="448.4" y="522.68" width="8.6" height="8" fill="#00c4ff"/>
<rect x="475.2" y="522.68" width="1" height="8" fill="#00c4ff"/>
<line x1="311.6" y1="538.72" x2="476" y2="538.72" stroke="#262626" stroke-width="1.4"/>
<rect x="311.6" y="534.72" width="4" height="8" fill="#00c4ff"/>
<rect x="325.4" y="534.72" width="4.6" height="8" fill="#00c4ff"/>
<rect x="339.4" y="534.72" width="6.2" height="8" fill="#00c4ff"/>
<rect x="379.6" y="534.72" width="2.4" height="8" fill="#00c4ff"/>
<rect x="386.6" y="534.72" width="6.4" height="8" fill="#00c4ff"/>
<rect x="418.4" y="534.72" width="2.6" height="8" fill="#00c4ff"/>
<rect x="440.4" y="534.72" width="2.2" height="8" fill="#00c4ff"/>
<rect x="448.4" y="534.72" width="8.6" height="8" fill="#00c4ff"/>
<rect x="475.2" y="534.72" width="1" height="8" fill="#00c4ff"/>
<line x1="311.6" y1="550.76" x2="476" y2="550.76" stroke="#262626" stroke-width="1.4"/>
<rect x="311.6" y="546.76" width="4" height="8" fill="#00c4ff"/>
<rect x="325.4" y="546.76" width="4.6" height="8" fill="#00c4ff"/>
<rect x="339.4" y="546.76" width="6.2" height="8" fill="#00c4ff"/>
<rect x="379.6" y="546.76" width="2.4" height="8" fill="#00c4ff"/>
<rect x="386.6" y="546.76" width="6.4" height="8" fill="#00c4ff"/>
<rect x="418.4" y="546.76" width="2.6" height="8" fill="#00c4ff"/>
<rect x="440.4" y="546.76" width="2.2" height="8" fill="#00c4ff"/>
<rect x="448.4" y="546.76" width="8.6" height="8" fill="#00c4ff"/>
<rect x="475.2" y="546.76" width="1" height="8" fill="#00c4ff"/>
<line x1="311.6" y1="562.8" x2="476" y2="562.8" stroke="#262626" stroke-width="1.4"/>
<rect x="311.6" y="558.8" width="4" height="8" fill="#00c4ff"/>
<rect x="325.4" y="558.8" width="4.6" height="8" fill="#00c4ff"/>
<rect x="339.4" y="558.8" width="6.2" height="8" fill="#00c4ff"/>
<rect x="379.6" y="558.8" width="2.4" height="8" fill="#00c4ff"/>
<rect x="386.6" y="558.8" width="6.4" height="8" fill="#00c4ff"/>
<rect x="418.4" y="558.8" width="2.6" height="8" fill="#00c4ff"/>
<rect x="450" y="558.8" width="7" height="8" fill="#00c4ff"/>
<rect x="475.2" y="558.8" width="1" height="8" fill="#00c4ff"/>
<line x1="311.6" y1="574.84" x2="476" y2="574.84" stroke="#262626" stroke-width="1.4"/>
<rect x="311.6" y="570.84" width="4" height="8" fill="#00c4ff"/>
<rect x="325.4" y="570.84" width="4.6" height="8" fill="#00c4ff"/>
<rect x="339.4" y="570.84" width="6.2" height="8" fill="#00c4ff"/>
<rect x="379.6" y="570.84" width="2.4" height="8" fill="#00c4ff"/>
<rect x="386.6" y="570.84" width="6.4" height="8" fill="#00c4ff"/>
<rect x="418.4" y="570.84" width="2.6" height="8" fill="#00c4ff"/>
<rect x="440.4" y="570.84" width="2.2" height="8" fill="#00c4ff"/>
<rect x="448.4" y="570.84" width="8.6" height="8" fill="#00c4ff"/>
<rect x="475.2" y="570.84" width="1" height="8" fill="#00c4ff"/>
<line x1="311.6" y1="586.88" x2="476" y2="586.88" stroke="#262626" stroke-width="1.4"/>
<rect x="311.6" y="582.88" width="4" height="8" fill="#00c4ff"/>
<rect x="325.4" y="582.88" width="4.6" height="8" fill="#00c4ff"/>
<rect x="339.4" y="582.88" width="6.2" height="8" fill="#00c4ff"/>
<rect x="379.6" y="582.88" width="2.4" height="8" fill="#00c4ff"/>
<rect x="386.6" y="582.88" width="6.4" height="8" fill="#00c4ff"/>
<rect x="418.4" y="582.88" width="2.6" height="8" fill="#00c4ff"/>
<rect x="440.4" y="582.88" width="2.2" height="8" fill="#00c4ff"/>
<rect x="448.4" y="582.88" width="8.6" height="8" fill="#00c4ff"/>
<rect x="475.2" y="582.88" width="1" height="8" fill="#00c4ff"/>
<line x1="311.6" y1="598.92" x2="476" y2="598.92" stroke="#262626" stroke-width="1.4"/>
<rect x="311.6" y="594.92" width="4" height="8" fill="#00c4ff"/>
<rect x="325.4" y="594.92" width="4.6" height="8" fill="#00c4ff"/>
<rect x="339.4" y="594.92" width="6.2" height="8" fill="#00c4ff"/>
<rect x="379.6" y="594.92" width="2.4" height="8" fill="#00c4ff"/>
<rect x="386.6" y="594.92" width="6.4" height="8" fill="#00c4ff"/>
<rect x="418.4" y="594.92" width="2.6" height="8" fill="#00c4ff"/>
<rect x="440.4" y="594.92" width="2.2" height="8" fill="#00c4ff"/>
<rect x="448.4" y="594.92" width="8.6" height="8" fill="#00c4ff"/>
<rect x="475.2" y="594.92" width="1" height="8" fill="#00c4ff"/>
<line x1="311.6" y1="610.96" x2="476" y2="610.96" stroke="#262626" stroke-width="1.4"/>
<rect x="311.6" y="606.96" width="4" height="8" fill="#00c4ff"/>
<rect x="325.4" y="606.96" width="4.6" height="8" fill="#00c4ff"/>
<rect x="339.4" y="606.96" width="6.2" height="8" fill="#00c4ff"/>
<rect x="379.6" y="606.96" width="2.4" height="8" fill="#00c4ff"/>
<rect x="386.6" y="606.96" width="6.4" height="8" fill="#00c4ff"/>
<rect x="418.4" y="606.96" width="2.6" height="8" fill="#00c4ff"/>
<rect x="440.4" y="606.96" width="2.2" height="8" fill="#00c4ff"/>
<rect x="448.4" y="606.96" width="8.6" height="8" fill="#00c4ff"/>
<rect x="475.2" y="606.96" width="1" height="8" fill="#00c4ff"/>
<line x1="311.6" y1="623" x2="476" y2="623" stroke="#262626" stroke-width="1.4"/>
<rect x="311.6" y="619" width="4" height="8" fill="#00c4ff"/>
<rect x="325.4" y="619" width="4.6" height="8" fill="#00c4ff"/>
<rect x="339.4" y="619" width="6.2" height="8" fill="#00c4ff"/>
<rect x="379.6" y="619" width="2.4" height="8" fill="#00c4ff"/>
<rect x="386.6" y="619" width="6.4" height="8" fill="#00c4ff"/>
<rect x="418.4" y="619" width="2.6" height="8" fill="#00c4ff"/>
<rect x="440.4" y="619" width="2.2" height="8" fill="#00c4ff"/>
<rect x="448.4" y="619" width="8.6" height="8" fill="#00c4ff"/>
<rect x="475.2" y="619" width="1" height="8" fill="#00c4ff"/>
<line x1="311.6" y1="635.04" x2="408.6" y2="635.04" stroke="#262626" stroke-width="1.4"/>
<rect x="311.6" y="631.04" width="4" height="8" fill="#00c4ff"/>
<rect x="319.4" y="631.04" width="7.2" height="8" fill="#00c4ff"/>
<rect x="351.6" y="631.04" width="2.4" height="8" fill="#00c4ff"/>
<rect x="373.6" y="631.04" width="2.4" height="8" fill="#00c4ff"/>
<rect x="381.6" y="631.04" width="8.4" height="8" fill="#00c4ff"/>
<rect x="408" y="631.04" width="1" height="8" fill="#00c4ff"/>
<line x1="311.8" y1="645.6" x2="507.4" y2="645.6" stroke="#222" stroke-width="1"/>
<line x1="312.3" y1="645.1" x2="312.3" y2="648.5" stroke="#222" stroke-width="1.2"/>
<text x="312.2" y="655.62" font-size="7.3" text-anchor="middle" fill="#111" transform="rotate(0.02 312.2 655.62)">0</text>
<line x1="351.22" y1="645.1" x2="351.22" y2="648.5" stroke="#222" stroke-width="1.2"/>
<text x="350.82" y="655.62" font-size="7.3" text-anchor="middle" fill="#111" transform="rotate(0.02 350.82 655.62)">1000</text>
<line x1="390.14" y1="645.1" x2="390.14" y2="648.5" stroke="#222" stroke-width="1.2"/>
<text x="389.74" y="655.62" font-size="7.3" text-anchor="middle" fill="#111" transform="rotate(0.02 389.74 655.62)">2000</text>
<line x1="429.06" y1="645.1" x2="429.06" y2="648.5" stroke="#222" stroke-width="1.2"/>
<text x="428.66" y="655.62" font-size="7.3" text-anchor="middle" fill="#111" transform="rotate(0.02 428.66 655.62)">3000</text>
<line x1="467.98" y1="645.1" x2="467.98" y2="648.5" stroke="#222" stroke-width="1.2"/>
<text x="467.58" y="655.62" font-size="7.3" text-anchor="middle" fill="#111" transform="rotate(0.02 467.58 655.62)">4000</text>
<line x1="506.9" y1="645.1" x2="506.9" y2="648.5" stroke="#222" stroke-width="1.2"/>
<text x="506.5" y="655.62" font-size="7.3" text-anchor="middle" fill="#111" transform="rotate(0.02 506.5 655.62)">5000</text>
<text x="311.5" y="647.38" font-size="7.3" text-anchor="end" fill="#111" transform="rotate(0.02 311.5 647.38)">5'</text>
<text x="509.2" y="647.38" font-size="7.3" text-anchor="start" fill="#111" transform="rotate(0.02 509.2 647.38)">3'</text>
<text x="517" y="655.62" font-size="7.3" text-anchor="start" fill="#111" transform="rotate(0.02 517 655.62)">bp</text>
<rect x="502.7" y="498.95" width="10" height="7.9" fill="#66409a"/>
<text x="513.9" y="505.62" font-size="7.4" text-anchor="start" fill="#111" transform="rotate(0.02 513.9 505.62)">Motif 9</text>
<rect x="502.7" y="509.78" width="10" height="7.9" fill="#0f837a"/>
<text x="513.9" y="516.38" font-size="7.4" text-anchor="start" fill="#111" transform="rotate(0.02 513.9 516.38)">Motif 4</text>
<rect x="502.7" y="520.61" width="10" height="7.9" fill="#a2dc84"/>
<text x="513.9" y="527.38" font-size="7.4" text-anchor="start" fill="#111" transform="rotate(0.02 513.9 527.38)">Motif 7</text>
<rect x="502.7" y="531.44" width="10" height="7.9" fill="#fdb585"/>
<text x="513.9" y="538.12" font-size="7.4" text-anchor="start" fill="#111" transform="rotate(0.02 513.9 538.12)">Motif 10</text>
<rect x="502.7" y="542.27" width="10" height="7.9" fill="#ff0a20"/>
<text x="513.9" y="548.88" font-size="7.4" text-anchor="start" fill="#111" transform="rotate(0.02 513.9 548.88)">Motif 5</text>
<rect x="502.7" y="553.1" width="10" height="7.9" fill="#33ad33"/>
<text x="513.9" y="559.88" font-size="7.4" text-anchor="start" fill="#111" transform="rotate(0.02 513.9 559.88)">Motif 1</text>
<rect x="502.7" y="563.93" width="10" height="7.9" fill="#f8588a"/>
<text x="513.9" y="570.62" font-size="7.4" text-anchor="start" fill="#111" transform="rotate(0.02 513.9 570.62)">Motif 3</text>
<rect x="502.7" y="574.76" width="10" height="7.9" fill="#9a95b9"/>
<text x="513.9" y="581.38" font-size="7.4" text-anchor="start" fill="#111" transform="rotate(0.02 513.9 581.38)">Motif 6</text>
<rect x="502.7" y="585.59" width="10" height="7.9" fill="#ffcc00"/>
<text x="513.9" y="592.12" font-size="7.4" text-anchor="start" fill="#111" transform="rotate(0.02 513.9 592.12)">Motif 2</text>
<rect x="502.7" y="596.42" width="10" height="7.9" fill="#ff9900"/>
<text x="513.9" y="603.12" font-size="7.4" text-anchor="start" fill="#111" transform="rotate(0.02 513.9 603.12)">Motif 8</text>
<rect x="502.7" y="610.45" width="10" height="7.9" fill="#00c4ff"/>
<text x="513.9" y="617.12" font-size="7.4" text-anchor="start" fill="#111" transform="rotate(0.02 513.9 617.12)">CDS</text>
</svg>
</body>
</html>
